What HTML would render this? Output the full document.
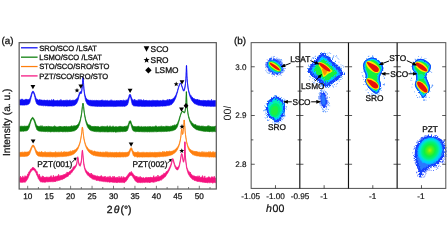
<!DOCTYPE html>
<html lang="en"><head><meta charset="utf-8"><title>XRD and RSM figure</title>
<style>html,body{margin:0;padding:0;background:#fff;overflow:hidden}svg{display:block}</style></head>
<body>
<svg width="448" height="252" viewBox="0 0 448 252" text-rendering="geometricPrecision" font-family='"Liberation Sans", Arial, Helvetica, sans-serif'>
<rect width="448" height="252" fill="#fff"/>
<defs>
<filter id="rough" x="-20%" y="-20%" width="140%" height="140%"><feTurbulence type="fractalNoise" baseFrequency="0.9" numOctaves="2" seed="3" result="n"/><feDisplacementMap in="SourceGraphic" in2="n" scale="4.5" xChannelSelector="R" yChannelSelector="G"/></filter>
<filter id="rough2" x="-20%" y="-20%" width="140%" height="140%"><feTurbulence type="fractalNoise" baseFrequency="0.7" numOctaves="2" seed="8" result="n"/><feDisplacementMap in="SourceGraphic" in2="n" scale="2.2" xChannelSelector="R" yChannelSelector="G"/></filter>
<marker id="ah" viewBox="0 0 10 10" refX="8" refY="5" markerWidth="4.8" markerHeight="4.6" orient="auto-start-reverse" markerUnits="userSpaceOnUse"><path d="M0 0.8 L10 5 L0 9.2 z" fill="#000"/></marker>
<radialGradient id="pztg"><stop offset="0" stop-color="#b4f000"/><stop offset="0.22" stop-color="#60f010"/><stop offset="0.5" stop-color="#10f040"/><stop offset="0.72" stop-color="#00f080"/><stop offset="0.86" stop-color="#00e8c0"/><stop offset="1" stop-color="#00ccff"/></radialGradient>
</defs>
<g id="xrd">
<polygon points="19.8,99.7 20.1,100.0 20.5,100.0 20.9,99.7 21.3,98.9 21.6,100.2 22.0,99.7 22.4,98.9 22.8,100.2 23.1,100.0 23.5,99.9 23.9,100.0 24.3,100.1 24.7,99.8 25.0,99.7 25.4,99.3 25.8,99.2 26.2,99.9 26.5,99.2 26.9,99.1 27.3,100.1 27.7,99.6 28.1,99.7 28.4,99.6 28.8,99.4 29.2,99.2 29.6,98.7 29.9,98.4 30.3,97.5 30.7,96.2 31.1,95.1 31.5,93.4 31.8,92.6 32.2,91.7 32.6,91.3 33.0,91.0 33.3,91.2 33.7,91.7 34.1,92.6 34.5,93.6 34.9,94.7 35.2,96.0 35.6,97.2 36.0,98.1 36.4,99.0 36.7,99.3 37.1,99.4 37.5,99.4 37.9,99.6 38.3,100.2 38.6,99.9 39.0,100.1 39.4,99.8 39.8,99.8 40.1,99.5 40.5,100.2 40.9,100.1 41.3,100.1 41.6,100.0 42.0,100.0 42.4,100.0 42.8,100.5 43.2,100.3 43.5,100.1 43.9,100.5 44.3,100.1 44.7,100.1 45.0,100.4 45.4,100.6 45.8,100.1 46.2,100.6 46.6,100.2 46.9,100.1 47.3,100.1 47.7,100.3 48.1,100.6 48.4,100.4 48.8,100.7 49.2,100.3 49.6,100.3 50.0,100.3 50.3,100.8 50.7,100.8 51.1,100.4 51.5,99.6 51.8,100.4 52.2,100.7 52.6,100.2 53.0,100.2 53.4,99.5 53.7,99.4 54.1,100.7 54.5,100.7 54.9,100.6 55.2,100.6 55.6,100.7 56.0,100.7 56.4,100.8 56.8,100.3 57.1,100.6 57.5,100.3 57.9,100.5 58.3,100.7 58.6,100.8 59.0,100.7 59.4,100.2 59.8,100.5 60.1,100.3 60.5,100.9 60.9,99.4 61.3,100.4 61.7,100.5 62.0,100.3 62.4,100.8 62.8,100.7 63.2,100.3 63.5,100.6 63.9,100.3 64.3,100.6 64.7,100.4 65.1,100.3 65.4,100.3 65.8,100.6 66.2,100.7 66.6,100.4 66.9,99.8 67.3,100.5 67.7,100.3 68.1,100.4 68.5,100.5 68.8,100.8 69.2,100.3 69.6,100.2 70.0,99.7 70.3,100.8 70.7,100.8 71.1,100.6 71.5,100.2 71.9,100.6 72.2,100.5 72.6,100.1 73.0,100.3 73.4,100.0 73.7,100.4 74.1,100.3 74.5,100.3 74.9,100.1 75.3,99.7 75.6,99.8 76.0,99.3 76.4,99.0 76.8,98.8 77.1,98.4 77.5,97.8 77.9,97.3 78.3,96.4 78.6,95.3 79.0,94.3 79.4,93.1 79.8,92.3 80.2,91.7 80.5,91.6 80.9,92.0 81.3,91.9 81.7,90.8 82.0,88.1 82.4,84.4 82.4,84.1 82.5,82.3 82.7,80.1 82.8,78.8 82.8,78.7 82.9,77.7 83.0,77.5 83.0,77.4 83.0,77.5 83.1,77.8 83.2,78.5 83.2,78.8 83.3,80.1 83.5,82.3 83.6,83.9 83.6,84.5 83.9,88.2 84.3,91.5 84.7,93.7 85.1,95.4 85.4,96.1 85.8,97.6 86.2,98.1 86.6,98.7 87.0,98.9 87.3,99.4 87.7,99.8 88.1,99.9 88.5,100.1 88.8,100.1 89.2,100.4 89.6,100.0 90.0,100.5 90.4,100.3 90.7,100.1 91.1,100.5 91.5,100.4 91.9,100.4 92.2,100.7 92.6,100.3 93.0,100.6 93.4,100.5 93.8,100.6 94.1,100.6 94.5,100.4 94.9,100.6 95.3,100.9 95.6,100.4 96.0,100.3 96.4,100.3 96.8,100.6 97.1,101.0 97.5,100.3 97.9,101.0 98.3,100.7 98.7,100.4 99.0,100.6 99.4,100.5 99.8,100.8 100.2,100.7 100.5,100.5 100.9,100.5 101.3,100.0 101.7,100.9 102.1,99.7 102.4,100.6 102.8,100.8 103.2,101.0 103.6,100.4 103.9,100.4 104.3,100.6 104.7,100.7 105.1,100.4 105.5,100.4 105.8,100.5 106.2,100.6 106.6,100.8 107.0,100.8 107.3,100.4 107.7,100.4 108.1,100.7 108.5,100.9 108.9,101.0 109.2,100.6 109.6,100.9 110.0,101.0 110.4,100.6 110.7,100.8 111.1,99.7 111.5,100.4 111.9,100.7 112.3,100.4 112.6,100.8 113.0,100.9 113.4,101.0 113.8,100.6 114.1,100.4 114.5,100.9 114.9,100.9 115.3,101.0 115.6,100.7 116.0,100.8 116.4,100.6 116.8,100.5 117.2,100.5 117.5,100.8 117.9,100.5 118.3,100.8 118.7,100.7 119.0,100.6 119.4,101.0 119.8,100.4 120.2,100.6 120.6,100.4 120.9,100.0 121.3,100.6 121.7,100.5 122.1,100.4 122.4,100.7 122.8,100.5 123.2,100.3 123.6,100.2 124.0,100.5 124.3,100.6 124.7,100.5 125.1,100.7 125.5,100.7 125.8,100.7 126.2,99.7 126.6,100.3 127.0,100.2 127.4,99.9 127.7,99.5 128.1,98.5 128.5,97.8 128.9,96.4 129.2,95.2 129.6,94.5 130.0,94.3 130.4,94.5 130.8,95.3 131.1,96.5 131.5,97.5 131.9,98.5 132.3,99.5 132.6,99.9 133.0,99.5 133.4,100.2 133.8,100.5 134.1,100.1 134.5,99.2 134.9,100.5 135.3,100.3 135.7,100.2 136.0,100.3 136.4,100.5 136.8,100.5 137.2,100.6 137.5,100.8 137.9,100.5 138.3,99.5 138.7,100.7 139.1,100.3 139.4,100.5 139.8,99.6 140.2,99.6 140.6,100.3 140.9,100.7 141.3,99.8 141.7,99.9 142.1,101.0 142.5,100.6 142.8,100.8 143.2,100.6 143.6,99.6 144.0,100.9 144.3,100.8 144.7,101.0 145.1,100.0 145.5,100.9 145.9,100.4 146.2,100.3 146.6,100.5 147.0,100.6 147.4,100.8 147.7,100.6 148.1,100.7 148.5,100.8 148.9,100.4 149.3,100.8 149.6,100.4 150.0,100.5 150.4,100.8 150.8,100.8 151.1,100.6 151.5,100.5 151.9,100.9 152.3,100.5 152.6,100.3 153.0,100.5 153.4,100.3 153.8,100.9 154.2,100.4 154.5,101.0 154.9,100.5 155.3,100.5 155.7,100.7 156.0,100.5 156.4,100.6 156.8,100.4 157.2,100.6 157.6,100.3 157.9,100.4 158.3,100.9 158.7,100.5 159.1,100.5 159.4,100.7 159.8,100.9 160.2,100.5 160.6,100.5 161.0,100.7 161.3,100.8 161.7,100.7 162.1,100.4 162.5,100.3 162.8,100.7 163.2,99.8 163.6,100.8 164.0,100.7 164.4,100.5 164.7,100.2 165.1,100.7 165.5,100.6 165.9,100.5 166.2,100.5 166.6,100.3 167.0,100.3 167.4,99.5 167.8,100.3 168.1,100.4 168.5,100.5 168.9,99.5 169.3,100.0 169.6,99.1 170.0,100.2 170.4,99.8 170.8,99.9 171.1,99.4 171.5,99.5 171.9,99.4 172.3,99.3 172.7,99.1 173.0,98.5 173.4,98.4 173.8,98.1 174.2,97.5 174.5,97.3 174.9,96.6 175.3,96.1 175.7,95.2 176.1,94.5 176.4,93.5 176.8,92.6 177.2,91.5 177.6,90.3 177.9,89.1 178.3,87.8 178.7,86.5 179.1,85.4 179.5,84.3 179.8,83.5 180.2,83.0 180.6,83.0 181.0,83.5 181.3,84.2 181.7,85.3 182.1,86.4 182.5,87.6 182.9,88.5 183.2,89.4 183.6,89.9 184.0,89.8 184.4,89.2 184.7,88.0 185.1,85.9 185.5,83.1 185.9,78.8 185.9,78.3 186.1,75.8 186.2,72.5 186.3,71.1 186.3,69.7 186.4,66.9 186.4,65.9 186.5,65.5 186.6,65.9 186.6,66.9 186.6,67.7 186.7,69.7 186.8,72.4 186.9,75.8 187.0,76.8 187.1,78.4 187.4,82.0 187.8,85.3 188.1,87.8 188.5,89.7 188.9,91.2 189.3,92.5 189.6,93.4 190.0,94.4 190.4,95.0 190.8,95.7 191.2,95.7 191.5,96.7 191.9,97.2 192.3,97.1 192.7,97.9 193.0,98.1 193.4,98.6 193.8,98.4 194.2,98.6 194.6,98.8 194.9,99.4 195.3,99.4 195.7,99.6 196.1,99.1 196.4,99.5 196.8,100.0 197.2,99.7 197.6,99.1 198.0,100.1 198.3,100.2 198.7,99.9 199.1,100.1 199.5,99.9 199.8,100.1 200.2,100.5 200.6,100.5 201.0,100.3 201.4,100.5 201.7,100.6 202.1,100.3 202.5,100.7 202.9,100.4 203.2,100.2 203.6,100.5 204.0,100.5 204.4,100.6 204.8,100.6 205.1,100.2 205.5,100.6 205.9,100.8 206.3,100.6 206.6,100.9 207.0,100.6 207.4,100.8 207.8,100.3 208.1,99.9 208.5,100.5 208.9,100.8 209.3,100.5 209.7,100.7 210.0,100.8 210.4,100.8 210.8,100.7 211.2,100.9 211.5,99.4 211.9,100.4 212.3,100.7 212.7,100.9 213.1,100.8 213.4,100.5 213.8,100.4 214.2,100.6 214.6,100.6 214.9,100.6 215.3,100.7 215.7,100.5 215.7,106.3 215.3,106.3 214.9,106.4 214.6,106.3 214.2,106.3 213.8,106.4 213.4,106.3 213.1,106.5 212.7,106.3 212.3,106.3 211.9,106.3 211.5,106.4 211.2,106.3 210.8,106.3 210.4,106.6 210.0,106.1 209.7,106.3 209.3,106.1 208.9,106.1 208.5,106.2 208.1,106.2 207.8,106.1 207.4,106.2 207.0,106.1 206.6,106.1 206.3,106.5 205.9,106.1 205.5,106.1 205.1,106.1 204.8,105.9 204.4,106.0 204.0,106.4 203.6,106.0 203.2,106.0 202.9,105.9 202.5,105.7 202.1,106.1 201.7,105.8 201.4,105.6 201.0,105.6 200.6,105.5 200.2,105.6 199.8,105.3 199.5,105.4 199.1,105.3 198.7,105.1 198.3,105.5 198.0,105.1 197.6,104.8 197.2,104.7 196.8,104.6 196.4,104.4 196.1,104.3 195.7,104.2 195.3,103.8 194.9,103.7 194.6,103.8 194.2,103.1 193.8,102.9 193.4,102.5 193.0,102.0 192.7,101.6 192.3,101.2 191.9,100.6 191.5,100.0 191.2,99.3 190.8,98.5 190.4,97.6 190.0,96.6 189.6,95.5 189.3,94.2 188.9,92.7 188.5,90.9 188.1,88.8 187.8,86.1 187.4,82.5 187.1,78.7 187.0,77.1 186.9,76.0 186.8,72.6 186.7,69.9 186.6,67.8 186.6,67.0 186.6,65.9 186.5,65.5 186.4,65.9 186.4,67.0 186.3,69.9 186.3,71.3 186.2,72.6 186.1,76.0 185.9,78.7 185.9,79.1 185.5,83.7 185.1,86.8 184.7,89.0 184.4,90.4 184.0,91.1 183.6,91.1 183.2,90.6 182.9,89.7 182.5,88.5 182.1,87.2 181.7,86.0 181.3,84.9 181.0,84.1 180.6,83.6 180.2,83.6 179.8,84.1 179.5,84.9 179.1,86.1 178.7,87.4 178.3,88.8 177.9,90.3 177.6,91.7 177.2,93.1 176.8,94.4 176.4,95.7 176.1,96.8 175.7,97.9 175.3,98.8 174.9,99.7 174.5,100.5 174.2,101.1 173.8,101.8 173.4,102.3 173.0,102.9 172.7,103.3 172.3,103.5 171.9,103.9 171.5,104.6 171.1,104.5 170.8,104.6 170.4,105.1 170.0,105.0 169.6,105.2 169.3,105.3 168.9,105.3 168.5,105.6 168.1,105.5 167.8,105.5 167.4,105.6 167.0,105.7 166.6,105.8 166.2,105.8 165.9,105.9 165.5,105.9 165.1,106.0 164.7,106.0 164.4,106.0 164.0,106.0 163.6,106.0 163.2,106.1 162.8,106.2 162.5,106.2 162.1,106.1 161.7,106.1 161.3,106.1 161.0,106.3 160.6,106.2 160.2,106.1 159.8,106.2 159.4,106.2 159.1,106.2 158.7,106.2 158.3,106.3 157.9,106.2 157.6,106.2 157.2,106.2 156.8,106.3 156.4,106.4 156.0,106.3 155.7,106.4 155.3,106.4 154.9,106.2 154.5,106.3 154.2,106.2 153.8,106.2 153.4,106.3 153.0,106.2 152.6,106.3 152.3,106.6 151.9,106.4 151.5,106.4 151.1,106.4 150.8,106.3 150.4,106.2 150.0,106.4 149.6,106.4 149.3,106.3 148.9,106.3 148.5,106.4 148.1,106.3 147.7,106.4 147.4,106.3 147.0,106.3 146.6,106.3 146.2,106.2 145.9,106.6 145.5,106.2 145.1,106.4 144.7,106.4 144.3,106.4 144.0,106.4 143.6,106.4 143.2,106.2 142.8,106.3 142.5,106.4 142.1,106.4 141.7,106.4 141.3,106.3 140.9,106.2 140.6,106.3 140.2,106.1 139.8,106.3 139.4,106.3 139.1,106.2 138.7,106.3 138.3,106.3 137.9,106.1 137.5,106.2 137.2,106.2 136.8,106.1 136.4,106.1 136.0,106.1 135.7,106.1 135.3,106.0 134.9,105.9 134.5,106.0 134.1,105.8 133.8,105.8 133.4,105.7 133.0,105.4 132.6,105.0 132.3,104.5 131.9,103.0 131.5,101.2 131.1,99.4 130.8,97.9 130.4,96.9 130.0,96.5 129.6,96.8 129.2,97.9 128.9,99.5 128.5,101.2 128.1,103.0 127.7,104.1 127.4,105.0 127.0,105.3 126.6,105.5 126.2,105.8 125.8,105.8 125.5,106.0 125.1,105.9 124.7,106.4 124.3,106.0 124.0,106.5 123.6,106.0 123.2,106.1 122.8,106.4 122.4,106.2 122.1,106.2 121.7,106.3 121.3,106.2 120.9,106.1 120.6,106.4 120.2,106.2 119.8,106.3 119.4,106.2 119.0,106.2 118.7,106.2 118.3,106.2 117.9,106.2 117.5,106.3 117.2,106.3 116.8,106.2 116.4,106.4 116.0,106.4 115.6,106.4 115.3,106.4 114.9,106.4 114.5,106.5 114.1,106.3 113.8,106.4 113.4,106.6 113.0,106.3 112.6,106.3 112.3,106.4 111.9,106.4 111.5,106.3 111.1,106.4 110.7,106.4 110.4,106.3 110.0,106.3 109.6,106.3 109.2,106.4 108.9,106.3 108.5,106.4 108.1,106.3 107.7,106.2 107.3,106.5 107.0,106.4 106.6,106.3 106.2,106.5 105.8,106.4 105.5,106.3 105.1,106.4 104.7,106.4 104.3,106.4 103.9,106.4 103.6,106.4 103.2,106.3 102.8,106.3 102.4,106.3 102.1,106.4 101.7,106.5 101.3,106.4 100.9,106.2 100.5,106.4 100.2,106.4 99.8,106.3 99.4,106.4 99.0,106.4 98.7,106.2 98.3,106.3 97.9,106.2 97.5,106.7 97.1,106.2 96.8,106.2 96.4,106.3 96.0,106.2 95.6,106.3 95.3,106.3 94.9,106.1 94.5,106.3 94.1,106.1 93.8,106.1 93.4,106.1 93.0,106.2 92.6,106.0 92.2,106.1 91.9,106.1 91.5,105.9 91.1,105.9 90.7,105.8 90.4,105.8 90.0,105.7 89.6,105.5 89.2,105.4 88.8,105.2 88.5,105.0 88.1,104.7 87.7,104.5 87.3,103.9 87.0,103.8 86.6,102.8 86.2,101.9 85.8,101.0 85.4,99.6 85.1,97.9 84.7,95.8 84.3,93.0 83.9,89.4 83.6,85.2 83.6,84.5 83.5,82.9 83.3,80.5 83.2,79.1 83.2,78.8 83.1,78.0 83.0,77.7 83.0,77.6 83.0,77.7 82.9,78.0 82.8,79.1 82.8,79.1 82.7,80.5 82.5,82.8 82.4,84.8 82.4,85.1 82.0,89.4 81.7,92.2 81.3,93.6 80.9,93.7 80.5,93.4 80.2,93.4 79.8,94.0 79.4,95.1 79.0,96.5 78.6,97.9 78.3,99.3 77.9,100.6 77.5,101.6 77.1,102.4 76.8,103.1 76.4,103.7 76.0,104.1 75.6,104.5 75.3,104.8 74.9,104.9 74.5,105.3 74.1,105.4 73.7,105.4 73.4,105.6 73.0,105.6 72.6,105.8 72.2,105.8 71.9,105.9 71.5,105.9 71.1,106.0 70.7,106.0 70.3,105.9 70.0,106.1 69.6,106.0 69.2,106.1 68.8,106.1 68.5,106.1 68.1,106.1 67.7,106.2 67.3,106.1 66.9,106.2 66.6,106.5 66.2,106.2 65.8,106.1 65.4,106.1 65.1,106.2 64.7,106.1 64.3,106.2 63.9,106.5 63.5,106.1 63.2,106.2 62.8,106.0 62.4,106.1 62.0,106.2 61.7,106.2 61.3,106.1 60.9,106.2 60.5,106.0 60.1,106.1 59.8,106.2 59.4,106.1 59.0,106.2 58.6,106.1 58.3,106.0 57.9,106.1 57.5,106.1 57.1,106.2 56.8,106.1 56.4,106.0 56.0,106.1 55.6,106.0 55.2,106.0 54.9,106.2 54.5,106.0 54.1,105.9 53.7,106.1 53.4,106.4 53.0,106.0 52.6,106.3 52.2,106.0 51.8,106.0 51.5,105.9 51.1,106.2 50.7,105.9 50.3,106.0 50.0,105.9 49.6,106.0 49.2,105.9 48.8,106.0 48.4,105.9 48.1,105.9 47.7,105.8 47.3,106.0 46.9,105.9 46.6,105.7 46.2,105.7 45.8,106.0 45.4,105.7 45.0,105.7 44.7,105.6 44.3,105.6 43.9,105.6 43.5,105.9 43.2,105.6 42.8,105.5 42.4,105.6 42.0,105.6 41.6,105.6 41.3,105.4 40.9,105.3 40.5,105.3 40.1,105.2 39.8,105.2 39.4,105.2 39.0,105.1 38.6,105.0 38.3,104.9 37.9,104.6 37.5,104.4 37.1,104.1 36.7,103.8 36.4,102.9 36.0,101.9 35.6,100.6 35.2,99.0 34.9,97.2 34.5,95.7 34.1,94.4 33.7,93.4 33.3,92.8 33.0,92.5 32.6,92.8 32.2,93.5 31.8,94.6 31.5,96.0 31.1,97.6 30.7,99.2 30.3,100.7 29.9,102.3 29.6,103.0 29.2,103.6 28.8,104.0 28.4,104.3 28.1,104.5 27.7,104.5 27.3,104.8 26.9,104.9 26.5,104.8 26.2,104.9 25.8,104.8 25.4,104.9 25.0,105.3 24.7,105.0 24.3,105.0 23.9,105.0 23.5,104.9 23.1,105.3 22.8,105.0 22.4,105.1 22.0,105.1 21.6,105.0 21.3,105.1 20.9,105.0 20.5,105.1 20.1,105.0 19.8,105.0" fill="#0c0cf6" stroke="#0c0cf6" stroke-width="0.7" stroke-linejoin="round"/>
<polygon points="19.8,126.3 20.1,126.7 20.5,126.3 20.9,126.3 21.3,126.4 21.6,126.3 22.0,125.8 22.4,126.2 22.8,126.6 23.1,126.6 23.5,126.1 23.9,126.4 24.3,126.1 24.7,126.2 25.0,126.3 25.4,126.3 25.8,126.3 26.2,126.5 26.5,126.0 26.9,125.9 27.3,126.1 27.7,126.1 28.1,125.8 28.4,125.4 28.8,124.5 29.2,123.7 29.6,122.8 29.9,122.3 30.3,121.2 30.7,119.8 31.1,119.3 31.5,118.5 31.8,118.0 32.2,117.5 32.6,117.4 33.0,117.6 33.3,117.8 33.7,118.5 34.1,119.1 34.5,120.1 34.9,120.7 35.2,121.7 35.6,123.0 36.0,124.1 36.4,124.9 36.7,125.3 37.1,125.7 37.5,126.0 37.9,126.1 38.3,126.2 38.6,126.5 39.0,126.2 39.4,126.2 39.8,126.6 40.1,126.7 40.5,125.7 40.9,126.6 41.3,126.6 41.6,126.8 42.0,125.5 42.4,126.8 42.8,126.6 43.2,126.5 43.5,126.7 43.9,126.7 44.3,126.6 44.7,126.5 45.0,126.9 45.4,126.8 45.8,126.4 46.2,126.6 46.6,126.0 46.9,126.9 47.3,126.9 47.7,126.5 48.1,126.9 48.4,126.0 48.8,126.4 49.2,126.5 49.6,126.5 50.0,126.4 50.3,126.8 50.7,126.6 51.1,126.8 51.5,126.5 51.8,126.9 52.2,126.8 52.6,126.9 53.0,126.8 53.4,126.7 53.7,126.5 54.1,127.0 54.5,125.7 54.9,126.7 55.2,126.5 55.6,126.5 56.0,126.8 56.4,127.0 56.8,126.7 57.1,126.9 57.5,126.9 57.9,126.8 58.3,126.9 58.6,126.6 59.0,126.5 59.4,126.5 59.8,126.4 60.1,126.5 60.5,126.1 60.9,127.0 61.3,126.5 61.7,126.9 62.0,126.9 62.4,126.8 62.8,126.7 63.2,126.7 63.5,126.8 63.9,126.6 64.3,126.1 64.7,126.5 65.1,126.4 65.4,127.0 65.8,126.5 66.2,126.5 66.6,126.4 66.9,126.4 67.3,126.5 67.7,126.9 68.1,126.8 68.5,126.6 68.8,126.4 69.2,126.8 69.6,126.6 70.0,126.8 70.3,126.6 70.7,126.3 71.1,126.3 71.5,125.9 71.9,125.6 72.2,126.3 72.6,126.4 73.0,126.3 73.4,126.2 73.7,125.7 74.1,126.2 74.5,125.7 74.9,125.8 75.3,125.8 75.6,126.0 76.0,125.6 76.4,125.6 76.8,125.3 77.1,125.0 77.5,124.9 77.9,124.3 78.3,123.9 78.6,123.4 79.0,122.5 79.4,121.8 79.8,120.9 80.2,119.7 80.5,118.5 80.9,116.8 81.3,114.8 81.7,112.4 82.0,109.6 82.4,106.6 82.4,106.3 82.5,105.3 82.7,104.2 82.8,103.7 82.8,103.6 82.9,103.3 83.0,103.2 83.0,103.2 83.0,103.2 83.1,103.3 83.2,103.6 83.2,103.7 83.3,104.2 83.5,105.3 83.6,106.2 83.6,106.6 83.9,109.4 84.3,112.4 84.7,114.7 85.1,116.7 85.4,118.3 85.8,119.6 86.2,120.8 86.6,121.9 87.0,122.6 87.3,123.4 87.7,124.0 88.1,124.2 88.5,124.8 88.8,125.1 89.2,125.5 89.6,124.7 90.0,125.8 90.4,125.7 90.7,125.8 91.1,125.9 91.5,126.4 91.9,126.2 92.2,126.3 92.6,126.6 93.0,126.6 93.4,126.7 93.8,126.2 94.1,126.0 94.5,126.7 94.9,126.8 95.3,126.8 95.6,126.1 96.0,126.9 96.4,126.7 96.8,126.4 97.1,126.8 97.5,126.4 97.9,126.6 98.3,126.6 98.7,126.6 99.0,126.9 99.4,127.0 99.8,127.0 100.2,126.8 100.5,126.9 100.9,126.5 101.3,126.7 101.7,126.9 102.1,125.9 102.4,126.8 102.8,126.9 103.2,126.6 103.6,126.2 103.9,126.9 104.3,126.5 104.7,126.7 105.1,127.0 105.5,126.6 105.8,126.5 106.2,126.6 106.6,126.8 107.0,126.5 107.3,125.7 107.7,126.6 108.1,127.0 108.5,127.1 108.9,126.6 109.2,126.8 109.6,126.9 110.0,125.7 110.4,127.0 110.7,126.9 111.1,126.9 111.5,126.8 111.9,127.0 112.3,127.0 112.6,126.7 113.0,125.8 113.4,127.1 113.8,126.8 114.1,126.7 114.5,127.0 114.9,126.9 115.3,126.9 115.6,127.0 116.0,126.2 116.4,126.9 116.8,127.1 117.2,126.9 117.5,127.0 117.9,127.0 118.3,126.5 118.7,127.0 119.0,126.9 119.4,126.5 119.8,126.1 120.2,126.1 120.6,126.7 120.9,126.6 121.3,126.7 121.7,126.5 122.1,126.6 122.4,126.8 122.8,126.8 123.2,126.7 123.6,126.9 124.0,126.9 124.3,126.1 124.7,126.6 125.1,126.4 125.5,126.3 125.8,126.5 126.2,126.4 126.6,126.1 127.0,126.0 127.4,126.2 127.7,125.6 128.1,125.0 128.5,123.8 128.9,122.8 129.2,121.5 129.6,121.1 130.0,120.6 130.4,120.9 130.8,121.1 131.1,122.2 131.5,123.5 131.9,124.5 132.3,124.9 132.6,125.7 133.0,126.1 133.4,126.2 133.8,126.7 134.1,126.3 134.5,126.7 134.9,126.4 135.3,126.8 135.7,126.4 136.0,126.8 136.4,126.8 136.8,126.7 137.2,126.5 137.5,126.6 137.9,126.5 138.3,126.6 138.7,125.9 139.1,126.7 139.4,126.7 139.8,126.9 140.2,126.6 140.6,126.9 140.9,126.9 141.3,126.6 141.7,126.5 142.1,126.9 142.5,126.9 142.8,126.7 143.2,127.0 143.6,126.6 144.0,126.9 144.3,126.8 144.7,126.7 145.1,126.9 145.5,126.5 145.9,126.6 146.2,126.7 146.6,127.0 147.0,126.9 147.4,126.5 147.7,126.8 148.1,126.5 148.5,126.7 148.9,127.0 149.3,126.6 149.6,126.5 150.0,127.0 150.4,126.6 150.8,126.8 151.1,126.6 151.5,127.0 151.9,126.9 152.3,126.9 152.6,126.5 153.0,126.7 153.4,126.9 153.8,126.6 154.2,126.5 154.5,126.9 154.9,126.6 155.3,126.8 155.7,125.7 156.0,126.5 156.4,125.9 156.8,126.8 157.2,126.9 157.6,127.0 157.9,126.7 158.3,126.8 158.7,126.6 159.1,126.9 159.4,126.6 159.8,126.4 160.2,126.5 160.6,126.4 161.0,126.7 161.3,126.4 161.7,125.8 162.1,126.5 162.5,126.8 162.8,126.5 163.2,126.5 163.6,126.5 164.0,126.4 164.4,126.7 164.7,126.6 165.1,126.7 165.5,126.3 165.9,126.7 166.2,125.8 166.6,126.8 167.0,126.0 167.4,126.2 167.8,126.5 168.1,126.3 168.5,126.5 168.9,126.2 169.3,126.4 169.6,126.5 170.0,126.4 170.4,126.2 170.8,126.4 171.1,126.5 171.5,126.1 171.9,125.9 172.3,126.1 172.7,126.0 173.0,125.2 173.4,126.2 173.8,125.7 174.2,125.6 174.5,124.7 174.9,125.5 175.3,125.3 175.7,125.2 176.1,125.1 176.4,124.6 176.8,124.1 177.2,123.9 177.6,123.0 177.9,122.3 178.3,121.3 178.7,120.4 179.1,119.1 179.5,117.7 179.8,116.7 180.2,115.5 180.6,114.3 181.0,113.3 181.3,112.4 181.7,111.7 182.1,111.3 182.5,111.1 182.9,111.0 183.2,111.4 183.6,111.8 184.0,112.2 184.4,112.4 184.7,112.0 185.1,110.7 185.5,108.1 185.8,104.6 185.9,103.5 186.0,102.2 186.1,99.0 186.2,96.4 186.3,94.8 186.3,93.3 186.3,92.2 186.4,91.7 186.5,92.1 186.5,93.4 186.6,96.4 186.6,97.2 186.7,99.1 186.8,102.3 187.0,104.7 187.0,104.7 187.4,109.0 187.8,111.7 188.1,114.0 188.5,115.7 188.9,116.8 189.3,118.3 189.6,119.2 190.0,120.0 190.4,120.7 190.8,121.4 191.2,121.4 191.5,122.3 191.9,122.8 192.3,123.2 192.7,122.9 193.0,123.7 193.4,123.9 193.8,124.4 194.2,124.4 194.6,124.8 194.9,124.7 195.3,124.9 195.7,124.3 196.1,125.2 196.4,125.6 196.8,125.7 197.2,125.6 197.6,125.9 198.0,125.8 198.3,126.1 198.7,125.7 199.1,125.8 199.5,125.9 199.8,126.2 200.2,126.3 200.6,126.3 201.0,126.4 201.4,125.9 201.7,126.1 202.1,126.1 202.5,126.2 202.9,126.3 203.2,126.3 203.6,126.2 204.0,126.4 204.4,126.5 204.8,126.6 205.1,126.3 205.5,126.8 205.9,126.4 206.3,126.5 206.6,126.8 207.0,126.3 207.4,126.5 207.8,125.7 208.1,126.3 208.5,126.3 208.9,125.6 209.3,126.6 209.7,126.4 210.0,126.5 210.4,126.1 210.8,126.6 211.2,126.5 211.5,126.9 211.9,126.8 212.3,126.6 212.7,126.9 213.1,126.4 213.4,126.6 213.8,127.0 214.2,126.7 214.6,126.5 214.9,126.5 215.3,127.0 215.7,125.8 215.7,131.8 215.3,131.7 214.9,131.6 214.6,131.6 214.2,131.6 213.8,131.6 213.4,131.6 213.1,131.6 212.7,131.8 212.3,131.6 211.9,131.5 211.5,131.6 211.2,131.7 210.8,131.6 210.4,131.5 210.0,131.5 209.7,131.9 209.3,131.9 208.9,131.4 208.5,131.5 208.1,131.5 207.8,131.5 207.4,131.4 207.0,131.4 206.6,131.3 206.3,131.3 205.9,131.4 205.5,131.4 205.1,131.2 204.8,131.5 204.4,131.2 204.0,131.2 203.6,131.1 203.2,131.4 202.9,131.1 202.5,131.0 202.1,131.0 201.7,130.9 201.4,130.8 201.0,130.8 200.6,130.7 200.2,130.6 199.8,130.6 199.5,130.5 199.1,130.3 198.7,130.2 198.3,130.2 198.0,130.0 197.6,129.9 197.2,129.7 196.8,129.7 196.4,129.7 196.1,129.3 195.7,129.0 195.3,128.9 194.9,128.6 194.6,128.3 194.2,128.0 193.8,127.7 193.4,127.5 193.0,127.1 192.7,126.6 192.3,126.2 191.9,125.6 191.5,125.0 191.2,124.4 190.8,123.6 190.4,122.8 190.0,121.9 189.6,120.9 189.3,119.7 188.9,118.4 188.5,116.8 188.1,114.9 187.8,112.6 187.4,109.5 187.0,105.1 187.0,105.0 186.8,102.5 186.7,99.2 186.6,97.3 186.6,96.5 186.5,93.4 186.5,92.2 186.4,91.7 186.3,92.2 186.3,93.4 186.3,94.9 186.2,96.5 186.1,99.2 186.0,102.5 185.9,103.8 185.8,104.9 185.5,108.5 185.1,111.3 184.7,112.7 184.4,113.1 184.0,112.9 183.6,112.5 183.2,112.1 182.9,111.8 182.5,111.8 182.1,112.0 181.7,112.4 181.3,113.2 181.0,114.1 180.6,115.3 180.2,116.6 179.8,118.0 179.5,119.4 179.1,120.9 178.7,122.3 178.3,123.8 177.9,124.9 177.6,126.1 177.2,126.9 176.8,127.7 176.4,128.2 176.1,128.8 175.7,129.2 175.3,129.4 174.9,129.8 174.5,129.9 174.2,130.1 173.8,130.2 173.4,130.3 173.0,130.4 172.7,130.6 172.3,130.7 171.9,130.8 171.5,130.8 171.1,130.9 170.8,131.0 170.4,130.9 170.0,130.9 169.6,131.3 169.3,131.2 168.9,131.2 168.5,131.1 168.1,131.2 167.8,131.3 167.4,131.3 167.0,131.6 166.6,131.4 166.2,131.4 165.9,131.4 165.5,131.3 165.1,131.4 164.7,131.4 164.4,131.5 164.0,131.4 163.6,131.6 163.2,131.4 162.8,131.5 162.5,131.5 162.1,131.5 161.7,131.6 161.3,131.7 161.0,131.6 160.6,131.5 160.2,131.7 159.8,131.6 159.4,131.6 159.1,131.6 158.7,131.6 158.3,131.6 157.9,132.0 157.6,131.7 157.2,131.7 156.8,131.8 156.4,131.7 156.0,131.6 155.7,131.7 155.3,131.6 154.9,131.6 154.5,131.8 154.2,131.6 153.8,131.7 153.4,131.8 153.0,131.8 152.6,131.8 152.3,131.7 151.9,131.7 151.5,131.8 151.1,131.8 150.8,131.7 150.4,131.8 150.0,131.8 149.6,131.8 149.3,132.0 148.9,131.7 148.5,131.7 148.1,131.8 147.7,131.8 147.4,131.9 147.0,131.7 146.6,131.7 146.2,131.8 145.9,131.7 145.5,131.8 145.1,131.7 144.7,131.8 144.3,131.8 144.0,131.7 143.6,131.8 143.2,131.7 142.8,131.8 142.5,131.7 142.1,131.8 141.7,131.7 141.3,131.7 140.9,131.6 140.6,131.7 140.2,131.6 139.8,131.7 139.4,131.7 139.1,132.0 138.7,131.6 138.3,131.7 137.9,131.7 137.5,131.5 137.2,131.6 136.8,131.7 136.4,131.5 136.0,131.6 135.7,131.8 135.3,131.5 134.9,131.3 134.5,131.3 134.1,131.3 133.8,131.0 133.4,130.9 133.0,130.6 132.6,130.0 132.3,129.1 131.9,127.8 131.5,126.3 131.1,124.8 130.8,123.7 130.4,123.0 130.0,122.9 129.6,123.4 129.2,124.3 128.9,125.6 128.5,127.2 128.1,128.6 127.7,129.7 127.4,130.4 127.0,130.9 126.6,131.0 126.2,131.2 125.8,131.4 125.5,131.4 125.1,131.4 124.7,131.5 124.3,131.5 124.0,131.5 123.6,131.6 123.2,131.6 122.8,131.5 122.4,131.7 122.1,131.7 121.7,131.6 121.3,131.6 120.9,131.8 120.6,132.0 120.2,131.6 119.8,131.8 119.4,131.7 119.0,131.8 118.7,131.8 118.3,131.8 117.9,131.7 117.5,131.9 117.2,131.8 116.8,131.7 116.4,132.2 116.0,132.2 115.6,132.1 115.3,132.2 114.9,131.8 114.5,131.7 114.1,131.8 113.8,131.9 113.4,131.9 113.0,132.1 112.6,131.8 112.3,131.8 111.9,131.8 111.5,131.9 111.1,131.7 110.7,131.7 110.4,131.8 110.0,131.9 109.6,131.8 109.2,131.8 108.9,131.9 108.5,131.9 108.1,131.7 107.7,131.9 107.3,131.9 107.0,131.8 106.6,131.8 106.2,131.8 105.8,131.8 105.5,131.8 105.1,131.9 104.7,131.8 104.3,131.9 103.9,131.8 103.6,131.8 103.2,131.7 102.8,131.7 102.4,131.8 102.1,131.8 101.7,131.8 101.3,131.7 100.9,132.1 100.5,131.8 100.2,131.8 99.8,132.1 99.4,131.7 99.0,131.6 98.7,131.8 98.3,131.6 97.9,131.7 97.5,131.6 97.1,131.6 96.8,131.6 96.4,131.7 96.0,131.6 95.6,131.6 95.3,131.5 94.9,131.4 94.5,131.4 94.1,131.6 93.8,131.3 93.4,131.2 93.0,131.1 92.6,131.0 92.2,130.9 91.9,130.8 91.5,130.8 91.1,130.5 90.7,130.5 90.4,130.1 90.0,129.9 89.6,129.7 89.2,129.3 88.8,128.9 88.5,128.3 88.1,127.8 87.7,127.2 87.3,126.3 87.0,125.4 86.6,124.5 86.2,123.1 85.8,121.6 85.4,120.0 85.1,118.0 84.7,115.8 84.3,113.1 83.9,110.0 83.6,106.9 83.6,106.5 83.5,105.6 83.3,104.5 83.2,103.9 83.2,103.8 83.1,103.6 83.0,103.5 83.0,103.4 83.0,103.5 82.9,103.6 82.8,103.9 82.8,103.9 82.7,104.5 82.5,105.6 82.4,106.7 82.4,106.9 82.0,110.1 81.7,113.2 81.3,115.9 80.9,118.1 80.5,120.1 80.2,121.7 79.8,123.2 79.4,124.4 79.0,125.7 78.6,126.4 78.3,127.1 77.9,127.9 77.5,128.3 77.1,128.8 76.8,129.3 76.4,129.6 76.0,129.9 75.6,130.1 75.3,130.3 74.9,130.5 74.5,130.8 74.1,130.8 73.7,130.9 73.4,131.0 73.0,131.2 72.6,131.1 72.2,131.3 71.9,131.3 71.5,131.4 71.1,131.5 70.7,131.5 70.3,131.4 70.0,131.9 69.6,131.5 69.2,131.6 68.8,131.6 68.5,131.6 68.1,131.7 67.7,131.6 67.3,132.0 66.9,131.7 66.6,131.7 66.2,131.6 65.8,131.8 65.4,131.7 65.1,131.7 64.7,131.7 64.3,131.6 63.9,131.7 63.5,131.7 63.2,131.7 62.8,131.8 62.4,131.7 62.0,131.7 61.7,131.6 61.3,132.0 60.9,131.6 60.5,131.6 60.1,131.6 59.8,131.7 59.4,131.7 59.0,131.7 58.6,131.8 58.3,131.7 57.9,131.8 57.5,131.6 57.1,131.8 56.8,131.7 56.4,131.7 56.0,131.7 55.6,131.6 55.2,131.8 54.9,131.8 54.5,131.7 54.1,131.8 53.7,131.8 53.4,131.7 53.0,131.8 52.6,131.6 52.2,131.7 51.8,131.7 51.5,131.7 51.1,131.7 50.7,132.0 50.3,131.7 50.0,131.7 49.6,131.6 49.2,131.7 48.8,131.7 48.4,131.6 48.1,131.6 47.7,131.8 47.3,131.6 46.9,131.5 46.6,131.5 46.2,131.5 45.8,131.5 45.4,131.9 45.0,131.5 44.7,131.6 44.3,131.4 43.9,131.5 43.5,131.5 43.2,131.5 42.8,131.3 42.4,131.4 42.0,131.3 41.6,131.6 41.3,131.3 40.9,131.3 40.5,131.3 40.1,131.1 39.8,131.2 39.4,131.1 39.0,130.9 38.6,130.9 38.3,130.7 37.9,130.5 37.5,130.3 37.1,129.8 36.7,129.4 36.4,128.3 36.0,127.3 35.6,126.1 35.2,124.7 34.9,123.4 34.5,122.1 34.1,121.0 33.7,120.0 33.3,119.3 33.0,119.0 32.6,118.8 32.2,119.0 31.8,119.5 31.5,120.1 31.1,121.0 30.7,122.2 30.3,123.6 29.9,124.8 29.6,126.2 29.2,127.4 28.8,128.4 28.4,129.1 28.1,129.7 27.7,130.2 27.3,130.5 26.9,130.7 26.5,130.7 26.2,130.9 25.8,130.8 25.4,131.0 25.0,131.2 24.7,131.0 24.3,131.0 23.9,131.1 23.5,131.2 23.1,131.4 22.8,131.1 22.4,131.2 22.0,131.3 21.6,131.3 21.3,131.2 20.9,131.2 20.5,131.2 20.1,131.3 19.8,131.3" fill="#0a7d0a" stroke="#0a7d0a" stroke-width="0.7" stroke-linejoin="round"/>
<polygon points="19.8,152.4 20.1,152.4 20.5,152.4 20.9,152.1 21.3,152.0 21.6,152.5 22.0,152.3 22.4,152.0 22.8,152.4 23.1,152.5 23.5,152.1 23.9,152.4 24.3,152.0 24.7,152.1 25.0,152.3 25.4,152.1 25.8,152.1 26.2,151.9 26.5,152.2 26.9,152.0 27.3,151.9 27.7,152.0 28.1,152.0 28.4,151.7 28.8,151.6 29.2,151.4 29.6,150.6 29.9,150.2 30.3,149.6 30.7,148.5 31.1,147.7 31.5,146.9 31.8,146.2 32.2,145.6 32.6,145.1 33.0,144.9 33.3,145.1 33.7,145.3 34.1,145.8 34.5,146.6 34.9,147.4 35.2,148.2 35.6,149.2 36.0,149.9 36.4,150.4 36.7,151.1 37.1,151.5 37.5,151.7 37.9,151.8 38.3,152.1 38.6,152.2 39.0,152.2 39.4,152.0 39.8,152.0 40.1,152.2 40.5,152.3 40.9,152.1 41.3,151.6 41.6,151.5 42.0,152.0 42.4,152.3 42.8,152.3 43.2,152.6 43.5,152.1 43.9,152.6 44.3,152.6 44.7,152.4 45.0,151.5 45.4,152.5 45.8,152.2 46.2,152.3 46.6,152.5 46.9,152.4 47.3,152.4 47.7,152.3 48.1,152.2 48.4,152.3 48.8,152.6 49.2,152.6 49.6,152.2 50.0,151.7 50.3,152.3 50.7,152.4 51.1,152.0 51.5,152.6 51.8,152.4 52.2,152.4 52.6,152.6 53.0,152.3 53.4,152.6 53.7,152.5 54.1,152.5 54.5,152.4 54.9,152.5 55.2,152.6 55.6,151.6 56.0,152.5 56.4,152.4 56.8,152.4 57.1,152.4 57.5,152.3 57.9,152.5 58.3,152.3 58.6,152.2 59.0,152.5 59.4,152.3 59.8,152.4 60.1,152.6 60.5,152.4 60.9,152.3 61.3,151.5 61.7,152.4 62.0,152.5 62.4,152.4 62.8,152.4 63.2,152.1 63.5,152.1 63.9,152.1 64.3,151.5 64.7,152.4 65.1,152.1 65.4,152.0 65.8,152.1 66.2,151.9 66.6,152.1 66.9,151.9 67.3,152.2 67.7,151.9 68.1,151.9 68.5,151.9 68.8,151.8 69.2,152.0 69.6,151.5 70.0,151.8 70.3,151.5 70.7,150.7 71.1,151.3 71.5,151.4 71.9,151.4 72.2,151.3 72.6,150.4 73.0,150.9 73.4,150.6 73.7,150.6 74.1,150.3 74.5,150.0 74.9,149.9 75.3,149.9 75.6,149.5 76.0,149.1 76.4,148.7 76.8,148.6 77.1,147.9 77.5,147.4 77.9,146.9 78.3,146.4 78.6,145.7 79.0,144.7 79.4,143.9 79.8,142.7 80.2,141.4 80.5,139.8 80.9,138.0 81.3,135.6 81.7,132.6 81.8,131.4 82.0,129.9 82.0,129.0 82.1,128.5 82.2,127.8 82.3,127.2 82.4,127.1 82.4,127.1 82.4,127.0 82.5,127.1 82.5,127.2 82.6,127.8 82.7,128.5 82.8,129.5 82.9,129.9 83.0,131.4 83.2,133.0 83.6,135.9 83.9,138.2 84.3,140.0 84.7,141.6 85.1,142.8 85.4,143.9 85.8,144.9 86.2,145.8 86.6,146.5 87.0,147.1 87.3,147.2 87.7,148.1 88.1,148.6 88.5,148.9 88.8,149.2 89.2,149.6 89.6,150.0 90.0,150.2 90.4,150.2 90.7,150.3 91.1,150.5 91.5,150.3 91.9,150.8 92.2,150.6 92.6,151.2 93.0,151.5 93.4,151.2 93.8,151.6 94.1,151.3 94.5,151.0 94.9,151.1 95.3,151.6 95.6,151.7 96.0,151.8 96.4,151.9 96.8,151.8 97.1,151.9 97.5,151.8 97.9,152.0 98.3,152.1 98.7,152.0 99.0,152.1 99.4,152.2 99.8,152.2 100.2,152.0 100.5,152.1 100.9,152.1 101.3,152.5 101.7,152.3 102.1,152.4 102.4,152.2 102.8,152.3 103.2,152.3 103.6,152.2 103.9,152.2 104.3,152.2 104.7,152.5 105.1,152.5 105.5,152.6 105.8,151.6 106.2,152.4 106.6,151.8 107.0,152.5 107.3,151.9 107.7,152.2 108.1,152.5 108.5,152.3 108.9,152.5 109.2,152.4 109.6,152.4 110.0,152.6 110.4,152.3 110.7,152.2 111.1,152.7 111.5,152.5 111.9,152.4 112.3,152.3 112.6,152.5 113.0,152.6 113.4,152.7 113.8,152.4 114.1,152.3 114.5,152.6 114.9,152.4 115.3,152.6 115.6,152.7 116.0,152.0 116.4,152.3 116.8,152.4 117.2,152.5 117.5,152.7 117.9,152.5 118.3,152.5 118.7,152.7 119.0,152.3 119.4,152.3 119.8,152.3 120.2,152.5 120.6,152.4 120.9,152.4 121.3,152.5 121.7,152.5 122.1,152.4 122.4,152.3 122.8,152.6 123.2,152.7 123.6,152.5 124.0,152.3 124.3,152.7 124.7,152.2 125.1,152.6 125.5,152.5 125.8,152.3 126.2,152.4 126.6,152.4 127.0,152.0 127.4,152.2 127.7,152.3 128.1,152.1 128.5,151.7 128.9,151.4 129.2,151.1 129.6,150.0 130.0,149.3 130.4,148.4 130.8,147.8 131.1,147.6 131.5,147.9 131.9,148.4 132.3,149.5 132.6,150.3 133.0,151.2 133.4,151.4 133.8,152.1 134.1,152.2 134.5,152.1 134.9,152.5 135.3,152.5 135.7,152.3 136.0,152.2 136.4,152.5 136.8,152.1 137.2,152.7 137.5,152.7 137.9,151.5 138.3,152.7 138.7,152.3 139.1,152.6 139.4,152.7 139.8,152.3 140.2,152.4 140.6,152.7 140.9,152.6 141.3,152.6 141.7,152.4 142.1,152.6 142.5,152.3 142.8,152.4 143.2,152.4 143.6,152.3 144.0,152.5 144.3,152.3 144.7,152.8 145.1,152.5 145.5,152.7 145.9,152.5 146.2,152.3 146.6,152.5 147.0,152.3 147.4,152.4 147.7,152.6 148.1,152.3 148.5,152.7 148.9,152.6 149.3,152.3 149.6,152.5 150.0,152.7 150.4,152.4 150.8,152.3 151.1,152.4 151.5,152.5 151.9,152.4 152.3,152.3 152.6,152.5 153.0,152.5 153.4,152.6 153.8,152.7 154.2,152.5 154.5,152.2 154.9,152.3 155.3,152.3 155.7,152.7 156.0,152.2 156.4,152.5 156.8,152.4 157.2,152.3 157.6,152.5 157.9,152.5 158.3,152.5 158.7,152.2 159.1,152.2 159.4,152.2 159.8,152.2 160.2,152.2 160.6,152.3 161.0,152.2 161.3,152.4 161.7,152.5 162.1,152.4 162.5,151.4 162.8,151.8 163.2,152.2 163.6,152.0 164.0,151.4 164.4,151.9 164.7,152.0 165.1,152.1 165.5,151.9 165.9,152.3 166.2,152.0 166.6,151.3 167.0,151.2 167.4,152.1 167.8,151.4 168.1,151.8 168.5,151.5 168.9,151.8 169.3,151.6 169.6,150.8 170.0,151.5 170.4,151.6 170.8,151.5 171.1,151.1 171.5,151.4 171.9,151.1 172.3,151.2 172.7,150.8 173.0,150.9 173.4,150.7 173.8,150.2 174.2,150.4 174.5,150.1 174.9,149.8 175.3,149.3 175.7,149.3 176.1,148.5 176.4,148.6 176.8,147.7 177.2,147.5 177.6,147.2 177.9,146.5 178.3,145.8 178.7,145.1 179.1,144.0 179.5,143.0 179.8,141.6 180.2,140.1 180.6,138.0 181.0,135.2 181.1,134.0 181.2,132.4 181.3,131.4 181.4,130.8 181.5,129.7 181.6,128.9 181.6,128.7 181.7,128.6 181.7,128.6 181.8,128.7 181.8,128.9 181.9,129.7 182.0,130.6 182.1,131.5 182.1,132.1 182.3,133.2 182.5,134.1 182.9,133.8 183.2,131.0 183.6,126.6 183.6,126.5 183.8,124.4 183.9,122.3 184.0,121.3 184.0,121.1 184.1,120.2 184.1,120.0 184.2,119.9 184.2,120.0 184.3,120.2 184.4,120.7 184.4,121.1 184.5,122.3 184.6,124.4 184.7,125.8 184.8,126.6 185.1,130.7 185.5,134.4 185.9,137.3 186.3,139.6 186.6,141.5 187.0,143.0 187.4,144.3 187.8,145.5 188.1,146.3 188.5,147.1 188.9,147.7 189.3,148.4 189.6,148.8 190.0,149.3 190.4,149.5 190.8,149.9 191.2,150.2 191.5,150.3 191.9,150.4 192.3,150.8 192.7,150.8 193.0,150.8 193.4,151.1 193.8,151.4 194.2,151.3 194.6,151.5 194.9,151.1 195.3,151.5 195.7,151.5 196.1,151.5 196.4,151.1 196.8,151.7 197.2,151.9 197.6,151.9 198.0,151.8 198.3,152.1 198.7,152.2 199.1,152.3 199.5,152.0 199.8,152.2 200.2,152.2 200.6,152.4 201.0,152.4 201.4,152.2 201.7,152.1 202.1,151.5 202.5,152.2 202.9,152.4 203.2,152.4 203.6,152.1 204.0,151.7 204.4,152.4 204.8,152.4 205.1,152.5 205.5,152.2 205.9,152.5 206.3,152.2 206.6,151.9 207.0,152.4 207.4,152.6 207.8,152.3 208.1,152.3 208.5,152.6 208.9,151.5 209.3,152.4 209.7,151.9 210.0,152.7 210.4,151.6 210.8,152.3 211.2,152.6 211.5,152.4 211.9,152.4 212.3,152.3 212.7,151.7 213.1,152.7 213.4,152.6 213.8,151.6 214.2,152.3 214.6,152.7 214.9,152.6 215.3,152.4 215.7,151.9 215.7,157.3 215.3,157.0 214.9,157.0 214.6,157.0 214.2,156.9 213.8,156.9 213.4,157.2 213.1,157.0 212.7,156.9 212.3,156.9 211.9,156.9 211.5,157.0 211.2,156.9 210.8,156.9 210.4,156.8 210.0,156.9 209.7,156.9 209.3,157.2 208.9,156.8 208.5,156.9 208.1,156.8 207.8,156.8 207.4,156.7 207.0,156.8 206.6,156.8 206.3,156.8 205.9,156.8 205.5,156.8 205.1,156.7 204.8,156.6 204.4,156.7 204.0,156.7 203.6,156.7 203.2,156.6 202.9,156.7 202.5,156.6 202.1,156.6 201.7,156.6 201.4,156.4 201.0,156.5 200.6,156.5 200.2,156.5 199.8,156.4 199.5,156.3 199.1,156.3 198.7,156.1 198.3,156.1 198.0,156.1 197.6,156.0 197.2,155.9 196.8,155.9 196.4,155.8 196.1,155.8 195.7,155.5 195.3,155.8 194.9,155.4 194.6,155.3 194.2,155.1 193.8,155.0 193.4,154.8 193.0,154.5 192.7,154.7 192.3,154.1 191.9,153.8 191.5,153.5 191.2,153.2 190.8,152.8 190.4,152.4 190.0,151.9 189.6,151.3 189.3,150.7 188.9,150.0 188.5,149.1 188.1,148.2 187.8,147.1 187.4,145.8 187.0,144.3 186.6,142.5 186.3,140.5 185.9,138.0 185.5,134.9 185.1,130.9 184.8,126.8 184.7,126.0 184.6,124.6 184.5,122.4 184.4,121.2 184.4,120.8 184.3,120.3 184.2,120.1 184.2,120.0 184.1,120.1 184.1,120.3 184.0,121.2 184.0,121.3 183.9,122.4 183.8,124.6 183.6,126.7 183.6,126.8 183.2,131.3 182.9,134.2 182.5,134.5 182.3,133.6 182.1,132.4 182.1,131.9 182.0,130.9 181.9,129.9 181.8,129.1 181.8,128.9 181.7,128.9 181.7,128.9 181.6,128.9 181.6,129.2 181.5,130.0 181.4,131.0 181.3,131.7 181.2,132.8 181.1,134.4 181.0,135.7 180.6,138.7 180.2,141.0 179.8,142.8 179.5,144.3 179.1,145.6 178.7,146.7 178.3,147.6 177.9,148.5 177.6,149.2 177.2,149.9 176.8,150.5 176.4,151.0 176.1,151.6 175.7,152.0 175.3,152.4 174.9,152.8 174.5,153.1 174.2,153.3 173.8,153.7 173.4,153.8 173.0,154.1 172.7,154.4 172.3,154.6 171.9,154.7 171.5,154.9 171.1,155.0 170.8,155.2 170.4,155.2 170.0,155.3 169.6,155.5 169.3,155.5 168.9,155.7 168.5,155.7 168.1,155.8 167.8,155.9 167.4,156.0 167.0,156.1 166.6,156.1 166.2,156.2 165.9,156.4 165.5,156.2 165.1,156.2 164.7,156.3 164.4,156.3 164.0,156.4 163.6,156.6 163.2,156.5 162.8,156.5 162.5,156.6 162.1,156.6 161.7,156.5 161.3,156.6 161.0,156.7 160.6,156.6 160.2,156.6 159.8,157.0 159.4,156.8 159.1,156.7 158.7,157.1 158.3,156.7 157.9,156.8 157.6,157.0 157.2,156.8 156.8,157.1 156.4,156.9 156.0,156.7 155.7,157.2 155.3,157.1 154.9,156.9 154.5,157.1 154.2,156.9 153.8,156.9 153.4,156.9 153.0,156.8 152.6,156.9 152.3,156.8 151.9,156.9 151.5,156.8 151.1,157.1 150.8,157.0 150.4,156.9 150.0,157.0 149.6,157.0 149.3,156.9 148.9,157.0 148.5,157.0 148.1,156.9 147.7,156.9 147.4,157.0 147.0,156.9 146.6,156.9 146.2,157.0 145.9,157.0 145.5,156.9 145.1,157.0 144.7,157.0 144.3,157.0 144.0,156.8 143.6,157.0 143.2,156.9 142.8,157.0 142.5,157.2 142.1,156.9 141.7,156.9 141.3,157.0 140.9,156.9 140.6,157.0 140.2,156.9 139.8,157.2 139.4,156.9 139.1,156.8 138.7,156.9 138.3,156.9 137.9,157.2 137.5,157.2 137.2,157.1 136.8,156.7 136.4,156.8 136.0,156.6 135.7,156.5 135.3,156.6 134.9,156.5 134.5,156.7 134.1,156.3 133.8,156.1 133.4,155.6 133.0,154.6 132.6,153.5 132.3,152.2 131.9,151.0 131.5,150.2 131.1,149.8 130.8,150.1 130.4,150.9 130.0,152.0 129.6,153.4 129.2,154.8 128.9,155.4 128.5,156.0 128.1,156.2 127.7,156.3 127.4,156.4 127.0,156.6 126.6,156.6 126.2,156.7 125.8,156.7 125.5,156.9 125.1,156.8 124.7,156.8 124.3,156.8 124.0,157.1 123.6,156.9 123.2,156.8 122.8,156.8 122.4,156.9 122.1,156.9 121.7,156.8 121.3,156.9 120.9,157.0 120.6,157.1 120.2,156.9 119.8,156.9 119.4,157.0 119.0,157.0 118.7,157.0 118.3,156.9 117.9,156.9 117.5,156.9 117.2,156.9 116.8,157.2 116.4,157.0 116.0,156.9 115.6,156.9 115.3,156.9 114.9,157.0 114.5,157.2 114.1,156.8 113.8,156.9 113.4,156.9 113.0,156.9 112.6,156.8 112.3,157.0 111.9,157.0 111.5,157.0 111.1,156.8 110.7,156.9 110.4,156.8 110.0,156.9 109.6,156.9 109.2,156.8 108.9,156.8 108.5,157.1 108.1,156.8 107.7,156.9 107.3,156.9 107.0,156.8 106.6,156.8 106.2,156.7 105.8,156.8 105.5,156.8 105.1,156.7 104.7,156.7 104.3,156.8 103.9,156.7 103.6,156.7 103.2,156.7 102.8,156.7 102.4,156.7 102.1,156.6 101.7,156.6 101.3,156.5 100.9,156.4 100.5,156.4 100.2,156.4 99.8,156.4 99.4,156.3 99.0,156.3 98.7,156.2 98.3,156.2 97.9,156.2 97.5,156.1 97.1,156.0 96.8,156.0 96.4,155.9 96.0,155.8 95.6,155.7 95.3,155.9 94.9,155.6 94.5,155.4 94.1,155.3 93.8,155.3 93.4,155.4 93.0,154.9 92.6,154.8 92.2,154.7 91.9,154.4 91.5,154.2 91.1,154.0 90.7,153.7 90.4,153.4 90.0,153.1 89.6,152.8 89.2,152.4 88.8,152.0 88.5,151.5 88.1,151.0 87.7,150.4 87.3,149.8 87.0,149.1 86.6,148.4 86.2,147.5 85.8,146.5 85.4,145.4 85.1,144.2 84.7,142.6 84.3,140.9 83.9,138.9 83.6,136.4 83.2,133.3 83.0,131.7 82.9,130.2 82.8,129.7 82.7,128.8 82.6,128.0 82.5,127.4 82.5,127.3 82.4,127.3 82.4,127.3 82.4,127.3 82.3,127.4 82.2,128.0 82.1,128.8 82.0,129.3 82.0,130.2 81.8,131.7 81.7,132.9 81.3,136.1 80.9,138.6 80.5,140.7 80.2,142.4 79.8,143.9 79.4,145.2 79.0,146.3 78.6,147.4 78.3,148.2 77.9,149.0 77.5,149.7 77.1,150.4 76.8,151.0 76.4,151.4 76.0,151.9 75.6,152.3 75.3,152.7 74.9,153.0 74.5,153.4 74.1,153.7 73.7,154.0 73.4,154.2 73.0,154.4 72.6,154.6 72.2,154.8 71.9,155.0 71.5,155.1 71.1,155.1 70.7,155.3 70.3,155.4 70.0,155.5 69.6,155.6 69.2,155.7 68.8,155.8 68.5,155.9 68.1,156.0 67.7,155.9 67.3,156.1 66.9,156.2 66.6,156.2 66.2,156.2 65.8,156.3 65.4,156.3 65.1,156.6 64.7,156.4 64.3,156.3 63.9,156.5 63.5,156.4 63.2,156.5 62.8,156.7 62.4,156.5 62.0,156.6 61.7,156.6 61.3,156.6 60.9,156.6 60.5,156.6 60.1,156.6 59.8,156.6 59.4,156.7 59.0,156.7 58.6,156.7 58.3,156.6 57.9,156.9 57.5,156.7 57.1,156.6 56.8,156.8 56.4,156.8 56.0,156.8 55.6,157.1 55.2,156.8 54.9,156.8 54.5,156.8 54.1,156.8 53.7,156.7 53.4,156.8 53.0,156.8 52.6,156.8 52.2,157.1 51.8,156.8 51.5,156.7 51.1,156.8 50.7,156.8 50.3,156.8 50.0,156.7 49.6,156.8 49.2,156.7 48.8,156.7 48.4,156.7 48.1,156.8 47.7,156.7 47.3,156.7 46.9,156.7 46.6,156.7 46.2,156.8 45.8,156.7 45.4,156.7 45.0,156.6 44.7,156.6 44.3,156.7 43.9,156.6 43.5,156.7 43.2,156.6 42.8,156.7 42.4,156.7 42.0,156.5 41.6,156.5 41.3,156.5 40.9,156.4 40.5,156.4 40.1,156.4 39.8,156.3 39.4,156.2 39.0,156.4 38.6,156.1 38.3,156.0 37.9,155.8 37.5,155.5 37.1,155.1 36.7,154.6 36.4,154.0 36.0,152.9 35.6,151.8 35.2,150.6 34.9,149.5 34.5,148.5 34.1,147.6 33.7,147.0 33.3,146.7 33.0,146.5 32.6,146.8 32.2,147.3 31.8,148.1 31.5,148.9 31.1,150.0 30.7,151.2 30.3,152.3 29.9,153.3 29.6,154.2 29.2,154.8 28.8,155.3 28.4,155.5 28.1,155.8 27.7,156.0 27.3,156.1 26.9,156.1 26.5,156.2 26.2,156.5 25.8,156.3 25.4,156.3 25.0,156.4 24.7,156.4 24.3,156.5 23.9,156.5 23.5,156.4 23.1,156.5 22.8,156.4 22.4,156.4 22.0,156.4 21.6,156.5 21.3,156.4 20.9,156.5 20.5,156.6 20.1,156.5 19.8,156.5" fill="#ff7f0e" stroke="#ff7f0e" stroke-width="0.7" stroke-linejoin="round"/>
<polygon points="19.8,177.8 20.1,177.3 20.5,176.1 20.9,177.9 21.3,177.6 21.6,177.5 22.0,177.8 22.4,177.7 22.8,175.9 23.1,177.6 23.5,177.7 23.9,176.9 24.3,177.6 24.7,177.6 25.0,175.6 25.4,177.1 25.8,176.6 26.2,176.8 26.5,176.8 26.9,175.7 27.3,175.4 27.7,174.0 28.1,174.3 28.4,173.5 28.8,171.9 29.2,171.8 29.6,171.2 29.9,171.0 30.3,169.9 30.7,169.2 31.1,169.3 31.5,168.7 31.8,168.5 32.2,168.1 32.6,167.2 33.0,167.6 33.3,167.8 33.7,167.6 34.1,168.2 34.5,168.4 34.9,168.5 35.2,168.9 35.6,169.5 36.0,170.5 36.4,171.1 36.7,171.5 37.1,171.4 37.5,173.2 37.9,173.9 38.3,174.9 38.6,175.4 39.0,175.5 39.4,174.2 39.8,176.1 40.1,176.3 40.5,177.2 40.9,177.4 41.3,176.9 41.6,177.8 42.0,177.2 42.4,175.8 42.8,177.5 43.2,178.0 43.5,176.3 43.9,177.0 44.3,177.9 44.7,177.1 45.0,177.7 45.4,177.6 45.8,177.0 46.2,176.9 46.6,177.8 46.9,176.8 47.3,176.9 47.7,177.8 48.1,177.5 48.4,177.3 48.8,177.2 49.2,177.3 49.6,177.1 50.0,176.7 50.3,176.8 50.7,176.9 51.1,175.6 51.5,176.9 51.8,177.3 52.2,177.3 52.6,177.3 53.0,176.9 53.4,175.3 53.7,176.3 54.1,176.7 54.5,177.1 54.9,176.6 55.2,176.5 55.6,176.3 56.0,176.7 56.4,176.5 56.8,176.0 57.1,176.1 57.5,175.9 57.9,175.9 58.3,176.0 58.6,174.3 59.0,176.6 59.4,176.2 59.8,175.5 60.1,175.9 60.5,175.7 60.9,175.4 61.3,175.5 61.7,175.5 62.0,175.0 62.4,175.7 62.8,175.1 63.2,174.6 63.5,175.1 63.9,175.2 64.3,174.2 64.7,174.6 65.1,174.6 65.4,174.1 65.8,173.6 66.2,174.0 66.6,173.4 66.9,172.1 67.3,172.3 67.7,172.5 68.1,172.5 68.5,172.8 68.8,172.0 69.2,171.6 69.6,171.4 70.0,171.4 70.3,171.0 70.7,170.7 71.1,169.8 71.5,169.9 71.9,169.8 72.2,169.3 72.6,169.0 73.0,167.4 73.4,167.8 73.7,166.7 74.1,167.2 74.5,166.0 74.9,166.2 75.3,166.0 75.6,165.4 76.0,164.7 76.4,164.1 76.8,163.0 77.1,160.6 77.2,160.2 77.3,159.0 77.5,158.0 77.5,157.8 77.6,157.4 77.7,156.9 77.8,157.1 77.8,156.8 77.8,156.9 77.9,157.1 77.9,157.2 78.0,157.4 78.1,157.7 78.2,159.1 78.3,159.2 78.4,160.1 78.6,161.9 79.0,163.4 79.4,164.0 79.8,164.4 80.2,164.5 80.5,163.7 80.9,162.5 81.3,160.6 81.7,157.2 81.8,155.6 82.0,154.1 82.0,152.9 82.1,152.3 82.2,151.3 82.3,150.3 82.4,150.2 82.4,150.2 82.4,150.1 82.5,150.0 82.5,150.4 82.6,151.1 82.7,152.2 82.8,153.5 82.9,154.2 83.0,155.5 83.2,157.5 83.6,161.2 83.9,163.4 84.3,165.4 84.7,167.3 85.1,168.3 85.4,168.9 85.8,169.8 86.2,170.4 86.6,171.0 87.0,171.1 87.3,171.9 87.7,172.2 88.1,172.1 88.5,172.3 88.8,173.1 89.2,173.5 89.6,173.6 90.0,173.9 90.4,173.4 90.7,174.4 91.1,174.1 91.5,173.1 91.9,174.8 92.2,174.8 92.6,174.8 93.0,174.6 93.4,175.5 93.8,175.3 94.1,174.9 94.5,175.5 94.9,175.8 95.3,175.7 95.6,175.9 96.0,175.6 96.4,176.5 96.8,176.0 97.1,175.7 97.5,175.9 97.9,176.6 98.3,176.6 98.7,176.4 99.0,176.2 99.4,176.7 99.8,176.9 100.2,176.2 100.5,176.2 100.9,177.0 101.3,175.4 101.7,177.1 102.1,176.5 102.4,177.3 102.8,176.9 103.2,177.2 103.6,176.7 103.9,176.9 104.3,176.9 104.7,177.0 105.1,176.0 105.5,177.2 105.8,177.5 106.2,177.3 106.6,177.5 107.0,177.2 107.3,176.7 107.7,177.3 108.1,176.9 108.5,176.8 108.9,177.7 109.2,177.4 109.6,177.4 110.0,175.9 110.4,177.4 110.7,177.1 111.1,177.4 111.5,177.5 111.9,177.7 112.3,177.4 112.6,177.2 113.0,176.1 113.4,177.8 113.8,177.2 114.1,178.0 114.5,176.3 114.9,177.3 115.3,178.0 115.6,177.8 116.0,177.3 116.4,177.3 116.8,178.2 117.2,178.1 117.5,177.2 117.9,177.2 118.3,178.2 118.7,177.9 119.0,176.2 119.4,177.2 119.8,177.9 120.2,177.7 120.6,177.9 120.9,178.0 121.3,176.3 121.7,177.9 122.1,178.2 122.4,178.0 122.8,177.6 123.2,176.5 123.6,177.9 124.0,177.7 124.3,177.4 124.7,177.3 125.1,177.9 125.5,177.4 125.8,177.1 126.2,176.7 126.6,176.6 127.0,176.4 127.4,175.2 127.7,175.0 128.1,174.6 128.5,173.8 128.9,173.4 129.2,172.8 129.6,172.5 130.0,172.5 130.4,172.2 130.8,172.4 131.1,172.4 131.5,171.5 131.9,172.5 132.3,173.2 132.6,173.3 133.0,173.5 133.4,174.4 133.8,174.8 134.1,175.5 134.5,175.4 134.9,176.5 135.3,176.3 135.7,176.3 136.0,176.5 136.4,177.2 136.8,176.0 137.2,177.3 137.5,177.2 137.9,177.3 138.3,177.3 138.7,177.2 139.1,177.3 139.4,177.3 139.8,177.6 140.2,176.3 140.6,177.9 140.9,177.6 141.3,177.6 141.7,177.5 142.1,178.1 142.5,178.1 142.8,177.7 143.2,177.8 143.6,177.5 144.0,177.8 144.3,178.2 144.7,178.2 145.1,177.8 145.5,177.4 145.9,178.0 146.2,177.4 146.6,177.4 147.0,177.5 147.4,177.7 147.7,177.6 148.1,177.6 148.5,177.7 148.9,177.0 149.3,178.0 149.6,178.1 150.0,177.0 150.4,177.2 150.8,177.4 151.1,177.8 151.5,177.0 151.9,177.5 152.3,177.4 152.6,177.7 153.0,177.3 153.4,177.1 153.8,175.6 154.2,177.5 154.5,177.1 154.9,177.6 155.3,177.3 155.7,176.8 156.0,177.0 156.4,176.5 156.8,177.2 157.2,177.2 157.6,176.6 157.9,175.0 158.3,176.4 158.7,176.4 159.1,176.7 159.4,176.4 159.8,176.6 160.2,176.1 160.6,176.2 161.0,176.1 161.3,175.4 161.7,175.1 162.1,175.1 162.5,175.1 162.8,174.5 163.2,174.4 163.6,174.6 164.0,172.9 164.4,173.9 164.7,173.7 165.1,173.3 165.5,172.7 165.9,172.9 166.2,171.5 166.6,171.6 167.0,171.3 167.4,170.9 167.8,170.4 168.1,169.8 168.5,169.4 168.9,168.7 169.3,167.7 169.6,167.1 170.0,166.5 170.4,165.6 170.8,164.7 171.1,163.6 171.5,162.6 171.9,160.9 172.3,159.5 172.7,158.5 173.0,158.6 173.4,159.8 173.8,161.2 174.2,162.8 174.5,163.8 174.9,164.9 175.3,165.5 175.7,166.2 176.1,167.0 176.4,167.1 176.8,167.7 177.2,167.7 177.6,167.1 177.9,167.3 178.3,167.2 178.7,166.2 179.1,165.2 179.5,164.2 179.8,162.6 180.2,160.7 180.6,158.7 181.0,156.2 181.3,154.2 181.7,153.4 182.1,154.1 182.5,156.6 182.9,158.5 183.2,160.4 183.6,160.8 184.0,159.8 184.3,157.0 184.4,155.9 184.5,154.4 184.6,151.0 184.7,148.0 184.7,146.6 184.8,144.1 184.8,142.4 184.9,141.6 185.0,142.4 185.0,144.1 185.1,147.8 185.1,148.4 185.2,151.1 185.3,154.5 185.5,157.1 185.5,157.2 185.9,161.3 186.3,163.9 186.6,166.2 187.0,167.7 187.4,168.7 187.8,169.9 188.1,170.4 188.5,171.0 188.9,172.2 189.3,171.7 189.6,172.8 190.0,173.6 190.4,172.2 190.8,173.9 191.2,174.6 191.5,174.4 191.9,174.5 192.3,175.3 192.7,175.7 193.0,175.7 193.4,176.2 193.8,175.5 194.2,175.8 194.6,176.3 194.9,176.1 195.3,176.7 195.7,176.3 196.1,177.0 196.4,176.4 196.8,176.7 197.2,176.7 197.6,177.3 198.0,175.7 198.3,176.8 198.7,177.3 199.1,176.6 199.5,175.8 199.8,177.7 200.2,177.5 200.6,177.5 201.0,176.9 201.4,177.1 201.7,177.9 202.1,177.0 202.5,175.6 202.9,176.2 203.2,177.4 203.6,178.0 204.0,177.8 204.4,177.9 204.8,175.9 205.1,178.1 205.5,178.0 205.9,178.0 206.3,178.2 206.6,178.1 207.0,177.5 207.4,178.1 207.8,177.8 208.1,177.2 208.5,177.4 208.9,176.5 209.3,177.9 209.7,177.2 210.0,177.6 210.4,178.2 210.8,178.0 211.2,177.6 211.5,176.7 211.9,177.8 212.3,176.7 212.7,177.8 213.1,177.3 213.4,177.7 213.8,178.1 214.2,176.1 214.6,178.1 214.9,177.5 215.3,178.3 215.7,178.0 215.7,182.7 215.3,182.7 214.9,182.5 214.6,182.6 214.2,182.5 213.8,182.7 213.4,182.5 213.1,182.8 212.7,183.3 212.3,182.7 211.9,182.6 211.5,182.5 211.2,182.5 210.8,182.6 210.4,182.6 210.0,182.6 209.7,182.7 209.3,182.7 208.9,182.5 208.5,182.3 208.1,182.3 207.8,183.2 207.4,182.5 207.0,182.4 206.6,182.5 206.3,182.4 205.9,182.9 205.5,182.5 205.1,182.4 204.8,182.4 204.4,182.4 204.0,182.2 203.6,182.3 203.2,182.2 202.9,182.1 202.5,182.2 202.1,182.2 201.7,181.8 201.4,182.0 201.0,182.1 200.6,181.8 200.2,181.9 199.8,181.6 199.5,181.6 199.1,181.8 198.7,181.6 198.3,181.5 198.0,181.6 197.6,181.4 197.2,181.4 196.8,181.2 196.4,181.0 196.1,180.8 195.7,180.9 195.3,180.5 194.9,180.6 194.6,180.5 194.2,180.4 193.8,179.9 193.4,179.8 193.0,179.4 192.7,179.5 192.3,179.0 191.9,178.9 191.5,178.3 191.2,178.0 190.8,177.6 190.4,177.3 190.0,176.7 189.6,176.1 189.3,175.6 188.9,174.9 188.5,174.3 188.1,173.4 187.8,172.4 187.4,171.2 187.0,169.7 186.6,168.3 186.3,165.8 185.9,162.7 185.5,158.1 185.5,158.0 185.3,155.4 185.2,151.8 185.1,149.2 185.1,148.6 185.0,144.6 185.0,142.8 184.9,142.0 184.8,142.8 184.8,144.6 184.7,147.0 184.7,148.6 184.6,151.9 184.5,155.4 184.4,156.9 184.3,157.9 184.0,161.1 183.6,162.3 183.2,161.7 182.9,159.8 182.5,157.5 182.1,155.3 181.7,154.2 181.3,155.1 181.0,157.3 180.6,159.7 180.2,162.1 179.8,164.1 179.5,165.8 179.1,167.2 178.7,168.4 178.3,169.1 177.9,169.7 177.6,170.0 177.2,170.0 176.8,169.8 176.4,169.5 176.1,169.0 175.7,168.7 175.3,167.6 174.9,166.8 174.5,165.6 174.2,164.3 173.8,162.9 173.4,161.0 173.0,159.8 172.7,159.6 172.3,160.6 171.9,162.5 171.5,164.0 171.1,165.6 170.8,166.6 170.4,167.6 170.0,168.4 169.6,169.4 169.3,170.3 168.9,170.9 168.5,171.6 168.1,172.4 167.8,172.9 167.4,173.6 167.0,174.3 166.6,174.7 166.2,175.3 165.9,175.9 165.5,176.2 165.1,177.1 164.7,177.0 164.4,177.3 164.0,177.7 163.6,178.2 163.2,178.4 162.8,178.6 162.5,179.1 162.1,179.3 161.7,179.5 161.3,180.3 161.0,180.1 160.6,180.0 160.2,180.2 159.8,180.5 159.4,180.7 159.1,180.9 158.7,180.9 158.3,180.9 157.9,181.0 157.6,181.0 157.2,181.1 156.8,181.5 156.4,181.4 156.0,181.5 155.7,181.5 155.3,181.8 154.9,181.6 154.5,182.3 154.2,181.8 153.8,181.9 153.4,182.4 153.0,182.0 152.6,181.9 152.3,182.2 151.9,182.0 151.5,181.9 151.1,182.0 150.8,182.3 150.4,182.2 150.0,182.1 149.6,183.0 149.3,182.4 148.9,182.3 148.5,182.3 148.1,182.3 147.7,182.3 147.4,182.6 147.0,182.5 146.6,182.2 146.2,182.3 145.9,182.3 145.5,182.3 145.1,182.5 144.7,182.4 144.3,182.6 144.0,182.5 143.6,182.4 143.2,182.3 142.8,182.6 142.5,182.6 142.1,182.6 141.7,182.3 141.3,182.7 140.9,182.7 140.6,182.7 140.2,182.4 139.8,182.4 139.4,182.5 139.1,182.4 138.7,182.7 138.3,182.3 137.9,182.4 137.5,182.5 137.2,182.3 136.8,181.9 136.4,181.8 136.0,181.6 135.7,181.2 135.3,180.7 134.9,180.4 134.5,179.6 134.1,179.0 133.8,178.4 133.4,177.7 133.0,177.6 132.6,176.5 132.3,176.1 131.9,175.8 131.5,175.6 131.1,175.3 130.8,175.3 130.4,175.4 130.0,175.7 129.6,175.9 129.2,176.5 128.9,176.9 128.5,177.6 128.1,178.2 127.7,178.8 127.4,179.6 127.0,179.9 126.6,180.5 126.2,181.2 125.8,181.3 125.5,181.8 125.1,181.9 124.7,182.1 124.3,183.1 124.0,182.5 123.6,182.5 123.2,182.2 122.8,182.5 122.4,182.3 122.1,182.5 121.7,182.6 121.3,182.3 120.9,182.4 120.6,182.2 120.2,182.6 119.8,182.2 119.4,182.4 119.0,182.6 118.7,182.2 118.3,182.2 117.9,182.4 117.5,182.6 117.2,182.2 116.8,182.9 116.4,182.2 116.0,182.3 115.6,182.5 115.3,182.1 114.9,182.3 114.5,182.5 114.1,182.3 113.8,182.4 113.4,182.3 113.0,182.1 112.6,182.3 112.3,182.3 111.9,182.1 111.5,182.0 111.1,182.0 110.7,182.1 110.4,182.0 110.0,182.2 109.6,182.2 109.2,182.2 108.9,181.8 108.5,181.9 108.1,181.8 107.7,182.0 107.3,181.9 107.0,181.8 106.6,182.0 106.2,181.6 105.8,181.8 105.5,181.7 105.1,181.6 104.7,181.6 104.3,181.6 103.9,181.4 103.6,181.6 103.2,181.6 102.8,181.5 102.4,181.2 102.1,181.2 101.7,181.3 101.3,181.1 100.9,181.3 100.5,181.0 100.2,180.8 99.8,181.1 99.4,180.9 99.0,180.8 98.7,180.5 98.3,180.6 97.9,180.5 97.5,180.6 97.1,180.2 96.8,180.1 96.4,180.7 96.0,179.9 95.6,179.8 95.3,179.6 94.9,179.7 94.5,179.6 94.1,179.3 93.8,179.4 93.4,178.9 93.0,179.4 92.6,178.6 92.2,179.1 91.9,178.3 91.5,178.0 91.1,177.9 90.7,177.8 90.4,177.4 90.0,177.0 89.6,176.9 89.2,176.5 88.8,176.2 88.5,175.8 88.1,175.4 87.7,175.2 87.3,174.7 87.0,174.1 86.6,173.6 86.2,173.0 85.8,172.2 85.4,171.4 85.1,170.4 84.7,169.1 84.3,167.5 83.9,165.4 83.6,162.7 83.2,159.0 83.0,156.9 82.9,155.0 82.8,154.3 82.7,153.0 82.6,151.9 82.5,151.1 82.5,150.9 82.4,150.8 82.4,150.8 82.4,150.9 82.3,151.1 82.2,152.0 82.1,153.0 82.0,153.7 82.0,154.9 81.8,157.0 81.7,158.4 81.3,162.0 80.9,164.2 80.5,165.5 80.2,166.3 79.8,166.1 79.4,165.7 79.0,164.9 78.6,163.2 78.4,161.5 78.3,160.6 78.2,160.3 78.1,159.2 78.0,158.6 77.9,158.1 77.9,158.2 77.8,158.2 77.8,158.0 77.8,158.0 77.7,158.2 77.6,158.5 77.5,159.0 77.5,159.1 77.3,160.3 77.2,161.6 77.1,162.0 76.8,164.4 76.4,165.7 76.0,166.6 75.6,167.3 75.3,167.8 74.9,168.4 74.5,168.8 74.1,169.4 73.7,169.8 73.4,170.3 73.0,170.8 72.6,171.3 72.2,172.2 71.9,172.2 71.5,172.7 71.1,173.0 70.7,173.6 70.3,174.3 70.0,174.2 69.6,174.6 69.2,175.0 68.8,175.2 68.5,175.5 68.1,176.4 67.7,176.4 67.3,176.4 66.9,176.7 66.6,177.0 66.2,177.3 65.8,177.4 65.4,177.6 65.1,178.0 64.7,178.1 64.3,178.5 63.9,179.0 63.5,178.7 63.2,178.9 62.8,179.1 62.4,179.6 62.0,179.4 61.7,179.4 61.3,179.7 60.9,179.8 60.5,179.9 60.1,179.8 59.8,180.2 59.4,180.3 59.0,180.4 58.6,180.5 58.3,180.4 57.9,180.5 57.5,180.6 57.1,181.2 56.8,180.7 56.4,180.7 56.0,180.7 55.6,181.8 55.2,180.9 54.9,181.1 54.5,182.0 54.1,181.3 53.7,181.2 53.4,181.5 53.0,182.2 52.6,181.3 52.2,181.6 51.8,181.5 51.5,181.7 51.1,181.8 50.7,181.7 50.3,181.8 50.0,181.9 49.6,181.6 49.2,181.9 48.8,181.7 48.4,181.9 48.1,181.8 47.7,182.0 47.3,181.7 46.9,181.8 46.6,181.8 46.2,181.8 45.8,181.9 45.4,182.0 45.0,182.6 44.7,182.2 44.3,182.0 43.9,181.9 43.5,182.3 43.2,182.1 42.8,182.2 42.4,182.1 42.0,182.0 41.6,181.8 41.3,182.0 40.9,181.8 40.5,182.1 40.1,181.1 39.8,180.6 39.4,180.4 39.0,179.6 38.6,179.1 38.3,178.7 37.9,177.2 37.5,176.5 37.1,175.5 36.7,175.1 36.4,173.8 36.0,172.9 35.6,172.2 35.2,171.6 34.9,171.2 34.5,170.6 34.1,170.2 33.7,169.9 33.3,169.9 33.0,169.9 32.6,170.0 32.2,170.2 31.8,170.5 31.5,170.9 31.1,171.6 30.7,172.0 30.3,172.7 29.9,173.5 29.6,174.5 29.2,175.2 28.8,176.2 28.4,177.0 28.1,177.9 27.7,178.8 27.3,179.4 26.9,180.2 26.5,180.6 26.2,181.2 25.8,181.4 25.4,181.8 25.0,182.5 24.7,182.1 24.3,182.0 23.9,182.1 23.5,182.2 23.1,182.0 22.8,182.4 22.4,182.2 22.0,182.2 21.6,182.0 21.3,182.6 20.9,182.2 20.5,182.3 20.1,182.0 19.8,182.2" fill="#f5127f" stroke="#f5127f" stroke-width="0.7" stroke-linejoin="round"/>
</g>
<rect x="19.15" y="42.65" width="197.15" height="146.35" fill="none" stroke="#585858" stroke-width="1.2"/>
<path d="M27.70 189.00 v-3.2 M38.42 189.00 v-2.0 M49.15 189.00 v-3.2 M59.88 189.00 v-2.0 M70.60 189.00 v-3.2 M81.33 189.00 v-2.0 M92.05 189.00 v-3.2 M102.78 189.00 v-2.0 M113.50 189.00 v-3.2 M124.23 189.00 v-2.0 M134.95 189.00 v-3.2 M145.67 189.00 v-2.0 M156.40 189.00 v-3.2 M167.12 189.00 v-2.0 M177.85 189.00 v-3.2 M188.57 189.00 v-2.0 M199.30 189.00 v-3.2 M210.02 189.00 v-2.0" stroke="#5a5a5a" stroke-width="0.8" fill="none"/>
<text x="27.70" y="199.00" font-size="8.2" text-anchor="middle" fill="#111" stroke="#111" stroke-width="0.25" >10</text>
<text x="49.15" y="199.00" font-size="8.2" text-anchor="middle" fill="#111" stroke="#111" stroke-width="0.25" >15</text>
<text x="70.60" y="199.00" font-size="8.2" text-anchor="middle" fill="#111" stroke="#111" stroke-width="0.25" >20</text>
<text x="92.05" y="199.00" font-size="8.2" text-anchor="middle" fill="#111" stroke="#111" stroke-width="0.25" >25</text>
<text x="113.50" y="199.00" font-size="8.2" text-anchor="middle" fill="#111" stroke="#111" stroke-width="0.25" >30</text>
<text x="134.95" y="199.00" font-size="8.2" text-anchor="middle" fill="#111" stroke="#111" stroke-width="0.25" >35</text>
<text x="156.40" y="199.00" font-size="8.2" text-anchor="middle" fill="#111" stroke="#111" stroke-width="0.25" >40</text>
<text x="177.85" y="199.00" font-size="8.2" text-anchor="middle" fill="#111" stroke="#111" stroke-width="0.25" >45</text>
<text x="199.30" y="199.00" font-size="8.2" text-anchor="middle" fill="#111" stroke="#111" stroke-width="0.25" >50</text>
<text x="119.2" y="212.8" font-size="10.4" text-anchor="middle" fill="#111" stroke="#111" stroke-width="0.3">2<tspan font-style="italic" dx="1.2">θ</tspan><tspan dx="1.0">(°)</tspan></text>
<text transform="translate(10.2 122.3) rotate(-90)" font-size="10.2" text-anchor="middle" fill="#111" stroke="#111" stroke-width="0.25">Intensity (a. u.)</text>
<text x="1.50" y="43.80" font-size="9.9" text-anchor="start" fill="#111" stroke="#111" stroke-width="0.28" >(a)</text>
<path d="M21 47.80 H37.6" stroke="#0c0cf6" stroke-width="1.25"/>
<text x="39.20" y="50.55" font-size="7.6" text-anchor="start" fill="#111" stroke="#111" stroke-width="0.3" >SRO/SCO /LSAT</text>
<path d="M21 57.17 H37.6" stroke="#0a7d0a" stroke-width="1.25"/>
<text x="39.20" y="59.92" font-size="7.6" text-anchor="start" fill="#111" stroke="#111" stroke-width="0.3" >LSMO/SCO /LSAT</text>
<path d="M21 66.54 H37.6" stroke="#ff7f0e" stroke-width="1.25"/>
<text x="39.20" y="69.29" font-size="7.6" text-anchor="start" fill="#111" stroke="#111" stroke-width="0.3" >STO/SCO/SRO/STO</text>
<path d="M21 75.91 H37.6" stroke="#f5127f" stroke-width="1.25"/>
<text x="39.20" y="78.66" font-size="7.6" text-anchor="start" fill="#111" stroke="#111" stroke-width="0.3" >PZT/SCO/SRO/STO</text>
<path d="M143.70 46.30 h5.60 l-2.80 5.40 z" fill="#000"/>
<text x="150.60" y="52.00" font-size="8.3" text-anchor="start" fill="#111" stroke="#111" stroke-width="0.3" >SCO</text>
<polygon points="146.60,57.00 147.39,59.11 149.64,59.21 147.88,60.62 148.48,62.79 146.60,61.54 144.72,62.79 145.32,60.62 143.56,59.21 145.81,59.11" fill="#000"/>
<text x="150.60" y="62.70" font-size="8.3" text-anchor="start" fill="#111" stroke="#111" stroke-width="0.3" >SRO</text>
<path d="M148.40 67.10 l3.20 3.20 l-3.20 3.20 l-3.20 -3.20 z" fill="#000"/>
<text x="155.00" y="73.00" font-size="8.3" text-anchor="start" fill="#111" stroke="#111" stroke-width="0.3" >LSMO</text>
<path d="M30.50 85.10 h4.80 l-2.40 4.20 z" fill="#000"/>
<path d="M78.40 84.60 h4.80 l-2.40 4.20 z" fill="#000"/>
<path d="M127.70 88.70 h4.80 l-2.40 4.20 z" fill="#000"/>
<path d="M179.60 80.30 h4.80 l-2.40 4.20 z" fill="#000"/>
<path d="M179.10 107.50 h4.80 l-2.40 4.20 z" fill="#000"/>
<path d="M30.70 139.40 h4.80 l-2.40 4.20 z" fill="#000"/>
<path d="M128.70 142.60 h4.80 l-2.40 4.20 z" fill="#000"/>
<polygon points="77.00,87.90 77.64,89.62 79.47,89.70 78.04,90.84 78.53,92.60 77.00,91.59 75.47,92.60 75.96,90.84 74.53,89.70 76.36,89.62" fill="#000"/>
<polygon points="176.20,81.60 176.84,83.32 178.67,83.40 177.24,84.54 177.73,86.30 176.20,85.29 174.67,86.30 175.16,84.54 173.73,83.40 175.56,83.32" fill="#000"/>
<polygon points="182.00,124.10 182.64,125.82 184.47,125.90 183.04,127.04 183.53,128.80 182.00,127.79 180.47,128.80 180.96,127.04 179.53,125.90 181.36,125.82" fill="#000"/>
<polygon points="181.80,148.20 182.44,149.92 184.27,150.00 182.84,151.14 183.33,152.90 181.80,151.89 180.27,152.90 180.76,151.14 179.33,150.00 181.16,149.92" fill="#000"/>
<path d="M186.00 103.00 l2.40 2.80 l-2.40 2.80 l-2.40 -2.80 z" fill="#000"/>
<text x="37.30" y="166.80" font-size="8.3" text-anchor="start" fill="#111" stroke="#111" stroke-width="0.3" >PZT(001)</text>
<text x="132.40" y="166.60" font-size="8.3" text-anchor="start" fill="#111" stroke="#111" stroke-width="0.3" >PZT(002)</text>
<path d="M71.8 162.6 L75.9 158.3" stroke="#000" stroke-width="0.9" fill="none"/>
<path d="M73.4 158.0 l3.2 -0.6 l-0.8 3.3 z" fill="#000"/>
<path d="M167.2 163.5 L171.0 159.7" stroke="#000" stroke-width="0.9" fill="none"/>
<path d="M168.6 159.4 l3.2 -0.6 l-0.8 3.3 z" fill="#000"/>
<g id="rsm">
<path d="M281.6 60.5h0.7v0.7h-0.7zM277.5 59.2h0.7v0.7h-0.7zM272.9 56.2h0.7v0.7h-0.7zM266.3 65.0h0.7v0.7h-0.7zM284.3 70.5h0.7v0.7h-0.7zM272.4 75.7h0.7v0.7h-0.7zM282.4 71.6h0.7v0.7h-0.7zM284.3 64.3h0.7v0.7h-0.7zM271.4 74.0h0.7v0.7h-0.7zM283.5 70.0h0.7v0.7h-0.7zM265.1 63.6h0.7v0.7h-0.7zM266.7 64.2h0.7v0.7h-0.7zM269.1 73.3h0.7v0.7h-0.7zM280.7 59.7h0.7v0.7h-0.7zM266.1 64.6h0.7v0.7h-0.7zM281.0 61.4h0.7v0.7h-0.7zM278.6 58.6h0.7v0.7h-0.7zM269.1 59.0h0.7v0.7h-0.7zM272.4 74.4h0.7v0.7h-0.7zM273.9 57.9h0.7v0.7h-0.7zM281.7 72.5h0.7v0.7h-0.7zM284.8 68.4h0.7v0.7h-0.7zM270.4 58.3h0.7v0.7h-0.7zM282.3 62.8h0.7v0.7h-0.7zM273.5 58.6h0.7v0.7h-0.7zM274.0 56.2h0.7v0.7h-0.7zM277.4 59.1h0.7v0.7h-0.7zM271.1 58.3h0.7v0.7h-0.7zM283.1 68.0h0.7v0.7h-0.7zM281.6 72.2h0.7v0.7h-0.7zM265.3 69.9h0.7v0.7h-0.7zM269.3 58.1h0.7v0.7h-0.7zM280.5 73.5h0.7v0.7h-0.7zM265.1 67.2h0.7v0.7h-0.7zM280.2 59.4h0.7v0.7h-0.7zM268.8 72.0h0.7v0.7h-0.7zM265.9 65.0h0.7v0.7h-0.7zM281.1 59.1h0.7v0.7h-0.7zM281.6 62.3h0.7v0.7h-0.7zM280.8 61.7h0.7v0.7h-0.7zM276.3 76.3h0.7v0.7h-0.7zM265.9 70.8h0.7v0.7h-0.7zM276.7 57.5h0.7v0.7h-0.7zM271.0 56.7h0.7v0.7h-0.7zM282.2 63.7h0.7v0.7h-0.7zM283.1 71.6h0.7v0.7h-0.7zM266.8 72.3h0.7v0.7h-0.7zM285.0 68.3h0.7v0.7h-0.7zM277.9 59.6h0.7v0.7h-0.7zM267.8 73.2h0.7v0.7h-0.7zM282.4 72.0h0.7v0.7h-0.7zM279.9 60.6h0.7v0.7h-0.7zM279.7 59.6h0.7v0.7h-0.7zM279.0 74.3h0.7v0.7h-0.7zM269.7 58.4h0.7v0.7h-0.7zM276.5 58.1h0.7v0.7h-0.7zM271.3 58.1h0.7v0.7h-0.7zM280.1 61.0h0.7v0.7h-0.7zM270.7 57.7h0.7v0.7h-0.7zM280.8 75.1h0.7v0.7h-0.7z" fill="#2a78ff"/>
<ellipse cx="274.80" cy="66.60" rx="9.20" ry="7.40" transform="rotate(36.0 274.80 66.60)" fill="#1840ff" filter="url(#rough)"/>
<ellipse cx="274.80" cy="66.60" rx="8.00" ry="5.20" transform="rotate(36.0 274.80 66.60)" fill="#00ccff" filter="url(#rough2)"/>
<ellipse cx="274.80" cy="66.60" rx="7.40" ry="3.80" transform="rotate(36.0 274.80 66.60)" fill="#14f03c"/>
<ellipse cx="274.80" cy="66.60" rx="6.90" ry="2.50" transform="rotate(36.0 274.80 66.60)" fill="#ffe800"/>
<ellipse cx="274.80" cy="66.60" rx="6.50" ry="1.35" transform="rotate(36.0 274.80 66.60)" fill="#e8100a"/>
<path d="M266.9 116.8h0.7v0.7h-0.7zM282.8 118.2h0.7v0.7h-0.7zM263.4 110.5h0.7v0.7h-0.7zM284.2 99.7h0.7v0.7h-0.7zM284.2 115.5h0.7v0.7h-0.7zM269.5 100.6h0.7v0.7h-0.7zM265.0 109.0h0.7v0.7h-0.7zM274.7 123.1h0.7v0.7h-0.7zM265.7 113.1h0.7v0.7h-0.7zM265.4 117.9h0.7v0.7h-0.7zM266.2 115.3h0.7v0.7h-0.7zM283.6 116.5h0.7v0.7h-0.7zM272.5 97.4h0.7v0.7h-0.7zM283.4 100.1h0.7v0.7h-0.7zM280.9 97.6h0.7v0.7h-0.7zM268.1 100.7h0.7v0.7h-0.7zM281.7 119.6h0.7v0.7h-0.7zM284.2 100.3h0.7v0.7h-0.7zM265.8 113.2h0.7v0.7h-0.7zM276.8 122.0h0.7v0.7h-0.7zM272.2 98.6h0.7v0.7h-0.7zM286.3 106.8h0.7v0.7h-0.7zM276.2 95.0h0.7v0.7h-0.7zM269.6 98.9h0.7v0.7h-0.7zM274.1 122.8h0.7v0.7h-0.7zM274.5 95.2h0.7v0.7h-0.7zM285.7 106.2h0.7v0.7h-0.7zM284.4 99.5h0.7v0.7h-0.7zM264.7 113.9h0.7v0.7h-0.7zM268.1 100.4h0.7v0.7h-0.7zM265.2 109.6h0.7v0.7h-0.7zM276.6 121.4h0.7v0.7h-0.7zM267.8 100.2h0.7v0.7h-0.7zM281.7 99.2h0.7v0.7h-0.7zM265.3 105.9h0.7v0.7h-0.7zM278.0 122.9h0.7v0.7h-0.7zM267.3 119.6h0.7v0.7h-0.7zM273.9 95.8h0.7v0.7h-0.7zM283.5 98.4h0.7v0.7h-0.7zM268.0 120.3h0.7v0.7h-0.7zM268.8 119.6h0.7v0.7h-0.7zM280.9 96.9h0.7v0.7h-0.7zM276.6 97.5h0.7v0.7h-0.7zM286.2 108.8h0.7v0.7h-0.7zM263.6 110.0h0.7v0.7h-0.7zM281.1 118.8h0.7v0.7h-0.7zM279.3 120.2h0.7v0.7h-0.7zM279.8 98.3h0.7v0.7h-0.7zM278.7 96.5h0.7v0.7h-0.7zM267.3 120.2h0.7v0.7h-0.7zM283.9 114.5h0.7v0.7h-0.7zM265.1 107.1h0.7v0.7h-0.7zM264.6 116.9h0.7v0.7h-0.7zM265.9 103.1h0.7v0.7h-0.7zM265.2 110.6h0.7v0.7h-0.7zM282.1 119.3h0.7v0.7h-0.7zM276.2 94.9h0.7v0.7h-0.7zM272.5 121.7h0.7v0.7h-0.7zM265.8 116.9h0.7v0.7h-0.7zM284.8 115.6h0.7v0.7h-0.7zM276.6 97.5h0.7v0.7h-0.7zM275.4 96.8h0.7v0.7h-0.7zM265.4 112.4h0.7v0.7h-0.7zM273.8 96.4h0.7v0.7h-0.7zM284.3 113.0h0.7v0.7h-0.7zM276.6 97.4h0.7v0.7h-0.7zM264.1 109.8h0.7v0.7h-0.7zM277.8 121.5h0.7v0.7h-0.7zM265.7 113.2h0.7v0.7h-0.7zM279.8 98.5h0.7v0.7h-0.7zM282.1 99.4h0.7v0.7h-0.7zM267.1 117.3h0.7v0.7h-0.7zM284.6 99.6h0.7v0.7h-0.7zM276.6 122.3h0.7v0.7h-0.7zM284.2 114.7h0.7v0.7h-0.7zM274.5 122.6h0.7v0.7h-0.7zM275.6 122.5h0.7v0.7h-0.7zM285.3 108.4h0.7v0.7h-0.7zM280.8 120.9h0.7v0.7h-0.7zM284.5 115.9h0.7v0.7h-0.7zM284.1 103.5h0.7v0.7h-0.7zM264.1 105.5h0.7v0.7h-0.7zM279.3 121.8h0.7v0.7h-0.7zM273.0 98.2h0.7v0.7h-0.7zM278.0 122.7h0.7v0.7h-0.7zM283.3 116.2h0.7v0.7h-0.7zM284.2 113.9h0.7v0.7h-0.7zM274.9 123.1h0.7v0.7h-0.7zM282.2 116.7h0.7v0.7h-0.7zM266.6 104.2h0.7v0.7h-0.7z" fill="#2a78ff"/>
<clipPath id="c1"><path d="M275.70 96.40 C277.26 96.29 279.99 98.21 281.20 99.20 C282.41 100.19 284.29 102.49 284.80 103.80 C285.31 105.11 285.13 107.57 285.00 109.00 C284.87 110.43 284.69 112.79 283.80 114.50 C282.91 116.21 279.81 121.12 278.30 121.80 C276.79 122.48 273.86 120.36 272.50 119.60 C271.14 118.84 268.89 117.25 268.10 116.10 C267.31 114.95 266.88 112.41 266.60 111.00 C266.32 109.59 265.61 106.97 266.00 105.50 C266.39 104.03 268.21 101.21 269.50 100.00 C270.79 98.79 274.14 96.51 275.70 96.40Z"/></clipPath>
<g filter="url(#rough)"><g clip-path="url(#c1)">
<path d="M275.70 96.40 C277.26 96.29 279.99 98.21 281.20 99.20 C282.41 100.19 284.29 102.49 284.80 103.80 C285.31 105.11 285.13 107.57 285.00 109.00 C284.87 110.43 284.69 112.79 283.80 114.50 C282.91 116.21 279.81 121.12 278.30 121.80 C276.79 122.48 273.86 120.36 272.50 119.60 C271.14 118.84 268.89 117.25 268.10 116.10 C267.31 114.95 266.88 112.41 266.60 111.00 C266.32 109.59 265.61 106.97 266.00 105.50 C266.39 104.03 268.21 101.21 269.50 100.00 C270.79 98.79 274.14 96.51 275.70 96.40Z" fill="#00f0a8"/>
<path d="M275.70 96.40 C277.26 96.29 279.99 98.21 281.20 99.20 C282.41 100.19 284.29 102.49 284.80 103.80 C285.31 105.11 285.13 107.57 285.00 109.00 C284.87 110.43 284.69 112.79 283.80 114.50 C282.91 116.21 279.81 121.12 278.30 121.80 C276.79 122.48 273.86 120.36 272.50 119.60 C271.14 118.84 268.89 117.25 268.10 116.10 C267.31 114.95 266.88 112.41 266.60 111.00 C266.32 109.59 265.61 106.97 266.00 105.50 C266.39 104.03 268.21 101.21 269.50 100.00 C270.79 98.79 274.14 96.51 275.70 96.40Z" fill="none" stroke="#00ccff" stroke-width="6.80" stroke-linejoin="round"/>
<path d="M275.70 96.40 C277.26 96.29 279.99 98.21 281.20 99.20 C282.41 100.19 284.29 102.49 284.80 103.80 C285.31 105.11 285.13 107.57 285.00 109.00 C284.87 110.43 284.69 112.79 283.80 114.50 C282.91 116.21 279.81 121.12 278.30 121.80 C276.79 122.48 273.86 120.36 272.50 119.60 C271.14 118.84 268.89 117.25 268.10 116.10 C267.31 114.95 266.88 112.41 266.60 111.00 C266.32 109.59 265.61 106.97 266.00 105.50 C266.39 104.03 268.21 101.21 269.50 100.00 C270.79 98.79 274.14 96.51 275.70 96.40Z" fill="none" stroke="#1840ff" stroke-width="4.00" stroke-linejoin="round"/>
</g></g>
<ellipse cx="274.90" cy="110.20" rx="5.40" ry="7.00" transform="rotate(12.0 274.90 110.20)" fill="#00f070"/>
<ellipse cx="274.70" cy="110.60" rx="3.40" ry="4.60" transform="rotate(12.0 274.70 110.60)" fill="#1cf040"/>
<path d="M319.7 54.7h0.7v0.7h-0.7zM335.0 80.5h0.7v0.7h-0.7zM315.2 55.7h0.7v0.7h-0.7zM329.8 84.2h0.7v0.7h-0.7zM322.2 55.0h0.7v0.7h-0.7zM312.5 78.2h0.7v0.7h-0.7zM340.0 76.7h0.7v0.7h-0.7zM320.6 85.1h0.7v0.7h-0.7zM309.0 66.2h0.7v0.7h-0.7zM313.2 58.2h0.7v0.7h-0.7zM342.3 72.4h0.7v0.7h-0.7zM308.1 65.8h0.7v0.7h-0.7zM337.7 65.6h0.7v0.7h-0.7zM332.4 57.6h0.7v0.7h-0.7zM313.1 58.1h0.7v0.7h-0.7zM336.1 55.3h0.7v0.7h-0.7zM313.5 57.0h0.7v0.7h-0.7zM311.0 70.7h0.7v0.7h-0.7zM334.1 84.0h0.7v0.7h-0.7zM325.0 54.8h0.7v0.7h-0.7zM319.7 57.9h0.7v0.7h-0.7zM341.1 67.7h0.7v0.7h-0.7zM333.5 55.1h0.7v0.7h-0.7zM328.4 55.4h0.7v0.7h-0.7zM337.6 80.6h0.7v0.7h-0.7zM318.0 84.0h0.7v0.7h-0.7zM340.4 69.8h0.7v0.7h-0.7zM328.4 56.7h0.7v0.7h-0.7zM312.9 62.1h0.7v0.7h-0.7zM326.2 85.9h0.7v0.7h-0.7zM340.6 63.9h0.7v0.7h-0.7zM307.8 68.5h0.7v0.7h-0.7zM311.7 70.2h0.7v0.7h-0.7zM337.2 83.2h0.7v0.7h-0.7zM311.5 73.5h0.7v0.7h-0.7zM339.9 67.5h0.7v0.7h-0.7zM328.6 55.9h0.7v0.7h-0.7zM325.1 54.3h0.7v0.7h-0.7zM342.3 74.4h0.7v0.7h-0.7zM321.4 85.6h0.7v0.7h-0.7zM321.2 52.1h0.7v0.7h-0.7zM309.4 76.1h0.7v0.7h-0.7zM308.6 72.0h0.7v0.7h-0.7zM335.7 86.4h0.7v0.7h-0.7zM336.0 83.8h0.7v0.7h-0.7zM338.0 76.0h0.7v0.7h-0.7zM337.7 58.1h0.7v0.7h-0.7zM337.6 78.9h0.7v0.7h-0.7zM342.3 78.4h0.7v0.7h-0.7zM335.5 56.0h0.7v0.7h-0.7zM320.1 54.4h0.7v0.7h-0.7zM338.7 73.3h0.7v0.7h-0.7zM320.3 86.1h0.7v0.7h-0.7zM333.0 56.7h0.7v0.7h-0.7zM325.6 87.3h0.7v0.7h-0.7zM340.7 65.8h0.7v0.7h-0.7zM311.8 64.9h0.7v0.7h-0.7zM325.8 56.5h0.7v0.7h-0.7zM318.5 57.9h0.7v0.7h-0.7zM318.3 56.2h0.7v0.7h-0.7zM332.9 55.9h0.7v0.7h-0.7zM338.6 61.8h0.7v0.7h-0.7zM344.2 72.3h0.7v0.7h-0.7zM327.6 52.7h0.7v0.7h-0.7zM332.0 58.3h0.7v0.7h-0.7zM335.1 60.8h0.7v0.7h-0.7zM320.4 83.6h0.7v0.7h-0.7zM311.4 72.0h0.7v0.7h-0.7zM329.5 86.5h0.7v0.7h-0.7zM333.9 84.0h0.7v0.7h-0.7zM320.9 58.1h0.7v0.7h-0.7zM338.6 58.9h0.7v0.7h-0.7zM325.7 53.2h0.7v0.7h-0.7zM339.0 67.1h0.7v0.7h-0.7zM340.6 79.1h0.7v0.7h-0.7zM342.2 72.4h0.7v0.7h-0.7zM312.3 57.6h0.7v0.7h-0.7zM337.9 79.2h0.7v0.7h-0.7zM326.4 55.4h0.7v0.7h-0.7zM321.9 84.2h0.7v0.7h-0.7zM341.6 72.5h0.7v0.7h-0.7zM340.1 76.7h0.7v0.7h-0.7zM323.9 55.0h0.7v0.7h-0.7zM311.0 58.8h0.7v0.7h-0.7zM332.7 85.7h0.7v0.7h-0.7zM317.7 56.4h0.7v0.7h-0.7zM317.9 82.3h0.7v0.7h-0.7zM313.8 81.9h0.7v0.7h-0.7zM340.0 68.0h0.7v0.7h-0.7zM336.7 56.8h0.7v0.7h-0.7zM314.5 82.7h0.7v0.7h-0.7zM344.0 73.6h0.7v0.7h-0.7zM311.5 71.2h0.7v0.7h-0.7zM330.4 53.0h0.7v0.7h-0.7zM323.9 51.8h0.7v0.7h-0.7zM322.7 86.6h0.7v0.7h-0.7zM309.9 76.7h0.7v0.7h-0.7zM322.3 87.3h0.7v0.7h-0.7zM310.5 73.6h0.7v0.7h-0.7zM320.9 56.6h0.7v0.7h-0.7zM316.3 87.0h0.7v0.7h-0.7zM313.9 80.2h0.7v0.7h-0.7zM343.6 66.4h0.7v0.7h-0.7zM337.5 63.9h0.7v0.7h-0.7zM330.3 57.0h0.7v0.7h-0.7zM314.8 56.0h0.7v0.7h-0.7zM325.2 57.0h0.7v0.7h-0.7zM313.8 62.6h0.7v0.7h-0.7zM332.3 57.8h0.7v0.7h-0.7zM329.7 85.1h0.7v0.7h-0.7zM308.1 64.7h0.7v0.7h-0.7zM333.3 86.7h0.7v0.7h-0.7zM308.9 79.5h0.7v0.7h-0.7zM316.1 59.6h0.7v0.7h-0.7zM308.1 69.6h0.7v0.7h-0.7zM333.2 56.7h0.7v0.7h-0.7zM313.0 82.6h0.7v0.7h-0.7zM339.3 80.8h0.7v0.7h-0.7zM311.9 80.9h0.7v0.7h-0.7zM337.9 78.1h0.7v0.7h-0.7zM322.0 85.0h0.7v0.7h-0.7zM343.2 66.8h0.7v0.7h-0.7zM339.6 79.0h0.7v0.7h-0.7zM342.5 65.1h0.7v0.7h-0.7zM342.1 75.9h0.7v0.7h-0.7zM329.0 52.5h0.7v0.7h-0.7zM311.9 62.8h0.7v0.7h-0.7zM332.2 85.6h0.7v0.7h-0.7zM322.7 85.0h0.7v0.7h-0.7zM312.2 67.9h0.7v0.7h-0.7z" fill="#2a78ff"/>
<clipPath id="c2"><path d="M321.40 53.00 C322.73 52.21 325.13 53.88 327.00 55.50 C328.87 57.12 342.88 70.54 343.80 72.50 C344.72 74.46 339.40 77.78 338.00 79.00 C336.60 80.22 328.33 86.78 327.00 87.20 C325.67 87.62 323.60 85.27 322.00 84.00 C320.40 82.73 308.72 73.58 307.80 72.00 C306.88 70.42 309.87 66.58 311.00 65.00 C312.13 63.42 320.07 53.79 321.40 53.00Z"/></clipPath>
<g filter="url(#rough)"><g clip-path="url(#c2)">
<path d="M321.40 53.00 C322.73 52.21 325.13 53.88 327.00 55.50 C328.87 57.12 342.88 70.54 343.80 72.50 C344.72 74.46 339.40 77.78 338.00 79.00 C336.60 80.22 328.33 86.78 327.00 87.20 C325.67 87.62 323.60 85.27 322.00 84.00 C320.40 82.73 308.72 73.58 307.80 72.00 C306.88 70.42 309.87 66.58 311.00 65.00 C312.13 63.42 320.07 53.79 321.40 53.00Z" fill="#14f03c"/>
<path d="M321.40 53.00 C322.73 52.21 325.13 53.88 327.00 55.50 C328.87 57.12 342.88 70.54 343.80 72.50 C344.72 74.46 339.40 77.78 338.00 79.00 C336.60 80.22 328.33 86.78 327.00 87.20 C325.67 87.62 323.60 85.27 322.00 84.00 C320.40 82.73 308.72 73.58 307.80 72.00 C306.88 70.42 309.87 66.58 311.00 65.00 C312.13 63.42 320.07 53.79 321.40 53.00Z" fill="none" stroke="#00ccff" stroke-width="10.00" stroke-linejoin="round"/>
<path d="M321.40 53.00 C322.73 52.21 325.13 53.88 327.00 55.50 C328.87 57.12 342.88 70.54 343.80 72.50 C344.72 74.46 339.40 77.78 338.00 79.00 C336.60 80.22 328.33 86.78 327.00 87.20 C325.67 87.62 323.60 85.27 322.00 84.00 C320.40 82.73 308.72 73.58 307.80 72.00 C306.88 70.42 309.87 66.58 311.00 65.00 C312.13 63.42 320.07 53.79 321.40 53.00Z" fill="none" stroke="#2a78ff" stroke-width="6.80" stroke-linejoin="round"/>
<path d="M321.40 53.00 C322.73 52.21 325.13 53.88 327.00 55.50 C328.87 57.12 342.88 70.54 343.80 72.50 C344.72 74.46 339.40 77.78 338.00 79.00 C336.60 80.22 328.33 86.78 327.00 87.20 C325.67 87.62 323.60 85.27 322.00 84.00 C320.40 82.73 308.72 73.58 307.80 72.00 C306.88 70.42 309.87 66.58 311.00 65.00 C312.13 63.42 320.07 53.79 321.40 53.00Z" fill="none" stroke="#1840ff" stroke-width="5.20" stroke-linejoin="round"/>
</g></g>
<ellipse cx="324.70" cy="67.30" rx="8.00" ry="2.90" transform="rotate(36.0 324.70 67.30)" fill="#ffe800"/>
<path d="M318.60 63.40 C318.94 62.95 323.60 65.26 325.00 66.00 C326.40 66.74 332.24 70.04 332.60 70.80 C332.96 71.56 329.50 72.98 328.60 73.60 C327.70 74.22 324.30 77.31 323.60 77.00 C322.90 76.69 322.10 71.86 321.60 70.50 C321.10 69.14 318.26 63.85 318.60 63.40Z" fill="#ffe800" />
<path d="M322.20 68.60 C322.77 68.37 326.95 69.92 327.30 70.80 C327.65 71.68 325.37 74.97 324.80 75.20 C324.23 75.43 323.35 73.38 323.00 72.50 C322.65 71.62 321.63 68.83 322.20 68.60Z" fill="#ff9000" />
<ellipse cx="324.70" cy="67.20" rx="7.00" ry="1.85" transform="rotate(36.0 324.70 67.20)" fill="#e8100a"/>
<path d="M322.5 109.4h0.7v0.7h-0.7zM318.5 96.1h0.7v0.7h-0.7zM318.3 96.7h0.7v0.7h-0.7zM325.7 93.5h0.7v0.7h-0.7zM321.7 88.6h0.7v0.7h-0.7zM321.1 90.5h0.7v0.7h-0.7zM327.1 96.6h0.7v0.7h-0.7zM323.9 89.7h0.7v0.7h-0.7zM328.5 102.1h0.7v0.7h-0.7zM321.3 107.0h0.7v0.7h-0.7zM319.4 92.6h0.7v0.7h-0.7zM321.2 90.6h0.7v0.7h-0.7zM329.2 103.2h0.7v0.7h-0.7zM321.9 91.4h0.7v0.7h-0.7zM319.1 103.1h0.7v0.7h-0.7zM327.3 94.1h0.7v0.7h-0.7zM323.2 111.6h0.7v0.7h-0.7zM322.6 110.7h0.7v0.7h-0.7zM326.5 108.6h0.7v0.7h-0.7zM328.3 109.0h0.7v0.7h-0.7zM326.5 108.9h0.7v0.7h-0.7zM326.8 111.1h0.7v0.7h-0.7zM319.1 100.7h0.7v0.7h-0.7zM327.3 93.0h0.7v0.7h-0.7zM323.1 109.6h0.7v0.7h-0.7zM327.8 105.1h0.7v0.7h-0.7zM320.9 88.9h0.7v0.7h-0.7zM320.6 91.7h0.7v0.7h-0.7zM325.2 92.1h0.7v0.7h-0.7zM325.0 111.3h0.7v0.7h-0.7zM325.4 111.7h0.7v0.7h-0.7zM322.5 111.1h0.7v0.7h-0.7zM325.5 91.2h0.7v0.7h-0.7zM326.3 92.0h0.7v0.7h-0.7zM322.2 108.6h0.7v0.7h-0.7zM323.2 91.2h0.7v0.7h-0.7zM321.5 89.7h0.7v0.7h-0.7zM328.3 101.7h0.7v0.7h-0.7zM319.1 101.0h0.7v0.7h-0.7zM320.0 90.1h0.7v0.7h-0.7zM329.0 97.3h0.7v0.7h-0.7zM318.7 93.0h0.7v0.7h-0.7zM321.3 91.6h0.7v0.7h-0.7zM329.4 105.5h0.7v0.7h-0.7zM324.7 90.9h0.7v0.7h-0.7zM325.5 108.9h0.7v0.7h-0.7zM322.6 90.4h0.7v0.7h-0.7zM319.0 94.1h0.7v0.7h-0.7zM319.6 104.6h0.7v0.7h-0.7zM323.6 110.9h0.7v0.7h-0.7zM319.1 99.4h0.7v0.7h-0.7zM322.0 88.5h0.7v0.7h-0.7zM318.0 98.5h0.7v0.7h-0.7zM320.2 90.4h0.7v0.7h-0.7zM324.0 110.2h0.7v0.7h-0.7zM321.9 108.6h0.7v0.7h-0.7zM319.9 104.9h0.7v0.7h-0.7zM328.3 104.0h0.7v0.7h-0.7zM319.8 92.2h0.7v0.7h-0.7zM322.1 88.2h0.7v0.7h-0.7z" fill="#2a78ff"/>
<ellipse cx="323.60" cy="100.20" rx="3.60" ry="8.20" transform="rotate(-8.0 323.60 100.20)" fill="#1840ff" filter="url(#rough)"/>
<ellipse cx="323.40" cy="99.80" rx="1.90" ry="5.40" transform="rotate(-8.0 323.40 99.80)" fill="#2a78ff" filter="url(#rough2)"/>
<path d="M379.4 89.8h0.7v0.7h-0.7zM376.7 93.6h0.7v0.7h-0.7zM383.0 74.9h0.7v0.7h-0.7zM384.0 73.4h0.7v0.7h-0.7zM381.4 87.4h0.7v0.7h-0.7zM372.4 55.0h0.7v0.7h-0.7zM367.7 92.1h0.7v0.7h-0.7zM380.8 90.3h0.7v0.7h-0.7zM362.9 64.8h0.7v0.7h-0.7zM372.8 94.2h0.7v0.7h-0.7zM367.1 88.7h0.7v0.7h-0.7zM366.7 58.7h0.7v0.7h-0.7zM362.1 75.7h0.7v0.7h-0.7zM364.3 65.3h0.7v0.7h-0.7zM371.4 93.7h0.7v0.7h-0.7zM378.8 93.5h0.7v0.7h-0.7zM366.4 58.1h0.7v0.7h-0.7zM382.9 76.4h0.7v0.7h-0.7zM375.1 94.7h0.7v0.7h-0.7zM383.9 84.2h0.7v0.7h-0.7zM383.9 78.2h0.7v0.7h-0.7zM372.1 56.1h0.7v0.7h-0.7zM365.7 89.7h0.7v0.7h-0.7zM371.7 93.1h0.7v0.7h-0.7zM363.2 70.7h0.7v0.7h-0.7zM383.8 84.9h0.7v0.7h-0.7zM363.3 79.3h0.7v0.7h-0.7zM367.9 56.3h0.7v0.7h-0.7zM382.8 84.2h0.7v0.7h-0.7zM369.1 93.9h0.7v0.7h-0.7zM378.8 91.7h0.7v0.7h-0.7zM383.2 84.3h0.7v0.7h-0.7zM377.6 94.2h0.7v0.7h-0.7zM375.1 95.7h0.7v0.7h-0.7zM368.6 55.7h0.7v0.7h-0.7zM364.8 84.1h0.7v0.7h-0.7zM382.6 67.9h0.7v0.7h-0.7zM381.0 64.3h0.7v0.7h-0.7zM372.7 56.5h0.7v0.7h-0.7zM368.2 92.5h0.7v0.7h-0.7zM375.0 93.1h0.7v0.7h-0.7zM364.2 81.3h0.7v0.7h-0.7zM384.1 77.5h0.7v0.7h-0.7zM363.1 76.7h0.7v0.7h-0.7zM364.2 63.4h0.7v0.7h-0.7zM373.7 93.9h0.7v0.7h-0.7zM373.2 57.3h0.7v0.7h-0.7zM384.0 83.5h0.7v0.7h-0.7zM372.6 94.6h0.7v0.7h-0.7zM363.2 84.3h0.7v0.7h-0.7zM380.9 88.4h0.7v0.7h-0.7zM362.5 75.2h0.7v0.7h-0.7zM361.6 72.2h0.7v0.7h-0.7zM366.7 59.1h0.7v0.7h-0.7zM373.3 57.0h0.7v0.7h-0.7z" fill="#2a78ff"/>
<clipPath id="c3"><path d="M363.10 65.30 C363.30 63.70 363.62 62.00 365.00 60.70 C366.38 59.40 369.28 57.72 371.40 57.50 C373.52 57.28 375.80 58.02 377.70 59.40 C379.60 60.78 381.95 63.88 382.80 65.80 C383.65 67.72 383.18 69.37 382.80 70.90 C382.42 72.43 381.02 73.62 380.50 75.00 C379.98 76.38 379.62 77.65 379.70 79.20 C379.78 80.75 380.90 82.60 381.00 84.30 C381.10 86.00 381.05 87.82 380.30 89.40 C379.55 90.98 377.98 93.58 376.50 93.80 C375.02 94.02 372.98 92.07 371.40 90.70 C369.82 89.33 368.07 87.30 367.00 85.60 C365.93 83.90 365.22 82.20 365.00 80.50 C364.78 78.80 365.90 77.10 365.70 75.40 C365.50 73.70 364.23 71.98 363.80 70.30 C363.37 68.62 362.90 66.90 363.10 65.30Z"/></clipPath>
<g filter="url(#rough2)"><g clip-path="url(#c3)">
<path d="M363.10 65.30 C363.30 63.70 363.62 62.00 365.00 60.70 C366.38 59.40 369.28 57.72 371.40 57.50 C373.52 57.28 375.80 58.02 377.70 59.40 C379.60 60.78 381.95 63.88 382.80 65.80 C383.65 67.72 383.18 69.37 382.80 70.90 C382.42 72.43 381.02 73.62 380.50 75.00 C379.98 76.38 379.62 77.65 379.70 79.20 C379.78 80.75 380.90 82.60 381.00 84.30 C381.10 86.00 381.05 87.82 380.30 89.40 C379.55 90.98 377.98 93.58 376.50 93.80 C375.02 94.02 372.98 92.07 371.40 90.70 C369.82 89.33 368.07 87.30 367.00 85.60 C365.93 83.90 365.22 82.20 365.00 80.50 C364.78 78.80 365.90 77.10 365.70 75.40 C365.50 73.70 364.23 71.98 363.80 70.30 C363.37 68.62 362.90 66.90 363.10 65.30Z" fill="#14f03c"/>
<path d="M363.10 65.30 C363.30 63.70 363.62 62.00 365.00 60.70 C366.38 59.40 369.28 57.72 371.40 57.50 C373.52 57.28 375.80 58.02 377.70 59.40 C379.60 60.78 381.95 63.88 382.80 65.80 C383.65 67.72 383.18 69.37 382.80 70.90 C382.42 72.43 381.02 73.62 380.50 75.00 C379.98 76.38 379.62 77.65 379.70 79.20 C379.78 80.75 380.90 82.60 381.00 84.30 C381.10 86.00 381.05 87.82 380.30 89.40 C379.55 90.98 377.98 93.58 376.50 93.80 C375.02 94.02 372.98 92.07 371.40 90.70 C369.82 89.33 368.07 87.30 367.00 85.60 C365.93 83.90 365.22 82.20 365.00 80.50 C364.78 78.80 365.90 77.10 365.70 75.40 C365.50 73.70 364.23 71.98 363.80 70.30 C363.37 68.62 362.90 66.90 363.10 65.30Z" fill="none" stroke="#00ccff" stroke-width="5.00" stroke-linejoin="round"/>
<path d="M363.10 65.30 C363.30 63.70 363.62 62.00 365.00 60.70 C366.38 59.40 369.28 57.72 371.40 57.50 C373.52 57.28 375.80 58.02 377.70 59.40 C379.60 60.78 381.95 63.88 382.80 65.80 C383.65 67.72 383.18 69.37 382.80 70.90 C382.42 72.43 381.02 73.62 380.50 75.00 C379.98 76.38 379.62 77.65 379.70 79.20 C379.78 80.75 380.90 82.60 381.00 84.30 C381.10 86.00 381.05 87.82 380.30 89.40 C379.55 90.98 377.98 93.58 376.50 93.80 C375.02 94.02 372.98 92.07 371.40 90.70 C369.82 89.33 368.07 87.30 367.00 85.60 C365.93 83.90 365.22 82.20 365.00 80.50 C364.78 78.80 365.90 77.10 365.70 75.40 C365.50 73.70 364.23 71.98 363.80 70.30 C363.37 68.62 362.90 66.90 363.10 65.30Z" fill="none" stroke="#1840ff" stroke-width="2.40" stroke-linejoin="round"/>
</g></g>
<ellipse cx="373.00" cy="67.00" rx="8.20" ry="4.20" transform="rotate(38.0 373.00 67.00)" fill="#ffe800"/>
<ellipse cx="372.60" cy="83.80" rx="7.70" ry="4.00" transform="rotate(38.0 372.60 83.80)" fill="#ffe800"/>
<path d="M366.93 62.17 C367.23 61.77 368.93 62.31 369.98 62.65 C371.03 62.98 372.10 63.59 373.23 64.17 C374.36 64.76 375.84 65.43 376.75 66.16 C377.66 66.89 378.40 67.73 378.68 68.56 C378.96 69.39 378.88 70.58 378.43 71.16 C377.98 71.73 376.85 72.10 375.97 72.03 C375.10 71.96 374.11 71.44 373.18 70.73 C372.25 70.03 371.24 68.75 370.40 67.80 C369.55 66.84 368.71 65.95 368.13 65.01 C367.55 64.07 366.62 62.56 366.93 62.17Z" fill="#e8100a" />
<path d="M366.94 79.31 C367.27 78.89 369.14 79.48 370.13 79.78 C371.13 80.07 371.90 80.50 372.93 81.07 C373.96 81.65 375.49 82.50 376.33 83.22 C377.16 83.94 377.71 84.62 377.94 85.37 C378.18 86.13 378.15 87.22 377.74 87.75 C377.33 88.27 376.27 88.57 375.48 88.52 C374.69 88.48 373.90 88.11 373.00 87.47 C372.10 86.84 370.90 85.56 370.10 84.70 C369.29 83.83 368.69 83.20 368.16 82.30 C367.64 81.40 366.61 79.73 366.94 79.31Z" fill="#e8100a" />
<path d="M411.5 79.9h0.7v0.7h-0.7zM432.3 85.9h0.7v0.7h-0.7zM423.9 58.5h0.7v0.7h-0.7zM413.6 64.1h0.7v0.7h-0.7zM411.6 72.3h0.7v0.7h-0.7zM411.2 78.1h0.7v0.7h-0.7zM431.4 72.3h0.7v0.7h-0.7zM426.1 96.6h0.7v0.7h-0.7zM410.2 72.1h0.7v0.7h-0.7zM417.3 97.4h0.7v0.7h-0.7zM424.1 100.1h0.7v0.7h-0.7zM418.1 56.1h0.7v0.7h-0.7zM430.4 71.3h0.7v0.7h-0.7zM416.9 59.5h0.7v0.7h-0.7zM412.7 65.7h0.7v0.7h-0.7zM411.9 83.8h0.7v0.7h-0.7zM432.1 85.5h0.7v0.7h-0.7zM414.7 58.8h0.7v0.7h-0.7zM417.5 59.2h0.7v0.7h-0.7zM412.6 64.6h0.7v0.7h-0.7zM421.0 96.9h0.7v0.7h-0.7zM432.5 85.3h0.7v0.7h-0.7zM419.5 96.8h0.7v0.7h-0.7zM421.3 56.7h0.7v0.7h-0.7zM424.4 99.3h0.7v0.7h-0.7zM415.6 59.6h0.7v0.7h-0.7zM410.2 70.8h0.7v0.7h-0.7zM410.9 66.1h0.7v0.7h-0.7zM412.5 64.8h0.7v0.7h-0.7zM423.0 98.7h0.7v0.7h-0.7zM425.0 61.4h0.7v0.7h-0.7zM425.7 99.7h0.7v0.7h-0.7zM411.6 86.7h0.7v0.7h-0.7zM416.0 95.2h0.7v0.7h-0.7zM416.7 59.8h0.7v0.7h-0.7zM431.1 87.0h0.7v0.7h-0.7zM410.4 79.8h0.7v0.7h-0.7zM426.2 96.8h0.7v0.7h-0.7zM421.7 59.3h0.7v0.7h-0.7zM412.8 61.5h0.7v0.7h-0.7zM415.1 59.5h0.7v0.7h-0.7zM431.9 84.6h0.7v0.7h-0.7zM423.3 100.1h0.7v0.7h-0.7zM425.3 97.2h0.7v0.7h-0.7zM417.4 97.1h0.7v0.7h-0.7zM414.1 91.6h0.7v0.7h-0.7zM419.1 96.6h0.7v0.7h-0.7zM425.6 58.2h0.7v0.7h-0.7zM429.7 67.6h0.7v0.7h-0.7zM429.8 91.4h0.7v0.7h-0.7zM428.9 97.0h0.7v0.7h-0.7zM428.9 66.5h0.7v0.7h-0.7zM417.6 58.5h0.7v0.7h-0.7zM411.3 77.8h0.7v0.7h-0.7zM431.3 85.7h0.7v0.7h-0.7z" fill="#2a78ff"/>
<clipPath id="c4"><path d="M420.60 58.80 C422.40 58.80 424.62 59.65 426.30 60.70 C427.98 61.75 430.07 63.52 430.70 65.10 C431.33 66.68 430.62 68.78 430.10 70.20 C429.58 71.62 428.23 72.47 427.60 73.60 C426.97 74.73 426.20 75.63 426.30 77.00 C426.40 78.37 427.57 80.15 428.20 81.80 C428.83 83.45 429.88 85.37 430.10 86.90 C430.32 88.43 430.03 89.73 429.50 91.00 C428.97 92.27 427.97 93.33 426.90 94.50 C425.83 95.67 424.15 97.95 423.10 98.00 C422.05 98.05 421.55 96.08 420.60 94.80 C419.65 93.52 418.35 91.88 417.40 90.30 C416.45 88.72 415.12 87.15 414.90 85.30 C414.68 83.45 416.00 81.08 416.10 79.20 C416.20 77.32 416.10 75.60 415.50 74.00 C414.90 72.40 413.03 71.08 412.50 69.60 C411.97 68.12 411.80 66.58 412.30 65.10 C412.80 63.62 414.12 61.75 415.50 60.70 C416.88 59.65 418.80 58.80 420.60 58.80Z"/></clipPath>
<g filter="url(#rough2)"><g clip-path="url(#c4)">
<path d="M420.60 58.80 C422.40 58.80 424.62 59.65 426.30 60.70 C427.98 61.75 430.07 63.52 430.70 65.10 C431.33 66.68 430.62 68.78 430.10 70.20 C429.58 71.62 428.23 72.47 427.60 73.60 C426.97 74.73 426.20 75.63 426.30 77.00 C426.40 78.37 427.57 80.15 428.20 81.80 C428.83 83.45 429.88 85.37 430.10 86.90 C430.32 88.43 430.03 89.73 429.50 91.00 C428.97 92.27 427.97 93.33 426.90 94.50 C425.83 95.67 424.15 97.95 423.10 98.00 C422.05 98.05 421.55 96.08 420.60 94.80 C419.65 93.52 418.35 91.88 417.40 90.30 C416.45 88.72 415.12 87.15 414.90 85.30 C414.68 83.45 416.00 81.08 416.10 79.20 C416.20 77.32 416.10 75.60 415.50 74.00 C414.90 72.40 413.03 71.08 412.50 69.60 C411.97 68.12 411.80 66.58 412.30 65.10 C412.80 63.62 414.12 61.75 415.50 60.70 C416.88 59.65 418.80 58.80 420.60 58.80Z" fill="#14f03c"/>
<path d="M420.60 58.80 C422.40 58.80 424.62 59.65 426.30 60.70 C427.98 61.75 430.07 63.52 430.70 65.10 C431.33 66.68 430.62 68.78 430.10 70.20 C429.58 71.62 428.23 72.47 427.60 73.60 C426.97 74.73 426.20 75.63 426.30 77.00 C426.40 78.37 427.57 80.15 428.20 81.80 C428.83 83.45 429.88 85.37 430.10 86.90 C430.32 88.43 430.03 89.73 429.50 91.00 C428.97 92.27 427.97 93.33 426.90 94.50 C425.83 95.67 424.15 97.95 423.10 98.00 C422.05 98.05 421.55 96.08 420.60 94.80 C419.65 93.52 418.35 91.88 417.40 90.30 C416.45 88.72 415.12 87.15 414.90 85.30 C414.68 83.45 416.00 81.08 416.10 79.20 C416.20 77.32 416.10 75.60 415.50 74.00 C414.90 72.40 413.03 71.08 412.50 69.60 C411.97 68.12 411.80 66.58 412.30 65.10 C412.80 63.62 414.12 61.75 415.50 60.70 C416.88 59.65 418.80 58.80 420.60 58.80Z" fill="none" stroke="#00ccff" stroke-width="5.00" stroke-linejoin="round"/>
<path d="M420.60 58.80 C422.40 58.80 424.62 59.65 426.30 60.70 C427.98 61.75 430.07 63.52 430.70 65.10 C431.33 66.68 430.62 68.78 430.10 70.20 C429.58 71.62 428.23 72.47 427.60 73.60 C426.97 74.73 426.20 75.63 426.30 77.00 C426.40 78.37 427.57 80.15 428.20 81.80 C428.83 83.45 429.88 85.37 430.10 86.90 C430.32 88.43 430.03 89.73 429.50 91.00 C428.97 92.27 427.97 93.33 426.90 94.50 C425.83 95.67 424.15 97.95 423.10 98.00 C422.05 98.05 421.55 96.08 420.60 94.80 C419.65 93.52 418.35 91.88 417.40 90.30 C416.45 88.72 415.12 87.15 414.90 85.30 C414.68 83.45 416.00 81.08 416.10 79.20 C416.20 77.32 416.10 75.60 415.50 74.00 C414.90 72.40 413.03 71.08 412.50 69.60 C411.97 68.12 411.80 66.58 412.30 65.10 C412.80 63.62 414.12 61.75 415.50 60.70 C416.88 59.65 418.80 58.80 420.60 58.80Z" fill="none" stroke="#1840ff" stroke-width="2.40" stroke-linejoin="round"/>
</g></g>
<ellipse cx="421.00" cy="76.60" rx="3.00" ry="2.60" transform="rotate(0.0 421.00 76.60)" fill="#00f0a8"/>
<ellipse cx="421.50" cy="67.00" rx="7.60" ry="3.70" transform="rotate(36.0 421.50 67.00)" fill="#ffe800"/>
<ellipse cx="422.20" cy="87.00" rx="7.60" ry="4.00" transform="rotate(47.0 422.20 87.00)" fill="#ffe800"/>
<ellipse cx="421.50" cy="67.00" rx="6.80" ry="2.20" transform="rotate(36.0 421.50 67.00)" fill="#e8100a"/>
<ellipse cx="422.20" cy="87.00" rx="7.00" ry="2.70" transform="rotate(47.0 422.20 87.00)" fill="#e8100a"/>
<path d="M430.3 136.3h0.7v0.7h-0.7zM435.8 166.8h0.7v0.7h-0.7zM446.1 150.5h0.7v0.7h-0.7zM442.8 158.4h0.7v0.7h-0.7zM419.2 167.7h0.7v0.7h-0.7zM415.2 157.0h0.7v0.7h-0.7zM444.4 142.9h0.7v0.7h-0.7zM419.6 165.6h0.7v0.7h-0.7zM435.4 137.4h0.7v0.7h-0.7zM438.6 138.5h0.7v0.7h-0.7zM425.0 135.3h0.7v0.7h-0.7zM442.3 160.4h0.7v0.7h-0.7zM437.3 137.0h0.7v0.7h-0.7zM437.5 168.0h0.7v0.7h-0.7zM443.4 154.5h0.7v0.7h-0.7zM414.3 153.9h0.7v0.7h-0.7zM443.3 147.9h0.7v0.7h-0.7zM442.3 143.6h0.7v0.7h-0.7zM438.7 165.4h0.7v0.7h-0.7zM419.8 166.6h0.7v0.7h-0.7zM445.3 158.9h0.7v0.7h-0.7zM413.8 157.4h0.7v0.7h-0.7zM418.0 166.1h0.7v0.7h-0.7zM443.3 140.8h0.7v0.7h-0.7zM423.5 138.5h0.7v0.7h-0.7zM433.9 166.8h0.7v0.7h-0.7zM424.9 135.3h0.7v0.7h-0.7zM443.1 159.7h0.7v0.7h-0.7zM445.7 147.7h0.7v0.7h-0.7zM438.3 166.0h0.7v0.7h-0.7zM444.0 156.8h0.7v0.7h-0.7zM429.0 136.4h0.7v0.7h-0.7zM415.3 151.9h0.7v0.7h-0.7zM421.7 137.5h0.7v0.7h-0.7zM415.2 156.0h0.7v0.7h-0.7zM422.7 136.8h0.7v0.7h-0.7zM417.6 141.8h0.7v0.7h-0.7zM432.6 136.8h0.7v0.7h-0.7zM426.9 136.0h0.7v0.7h-0.7zM418.7 140.9h0.7v0.7h-0.7zM430.1 136.6h0.7v0.7h-0.7zM445.2 150.8h0.7v0.7h-0.7zM434.5 135.0h0.7v0.7h-0.7zM443.8 161.7h0.7v0.7h-0.7zM444.2 158.8h0.7v0.7h-0.7zM421.4 168.1h0.7v0.7h-0.7zM443.8 155.5h0.7v0.7h-0.7zM445.0 157.9h0.7v0.7h-0.7zM413.8 159.9h0.7v0.7h-0.7zM427.4 169.3h0.7v0.7h-0.7zM414.8 151.5h0.7v0.7h-0.7zM445.5 155.1h0.7v0.7h-0.7zM444.2 146.3h0.7v0.7h-0.7zM434.5 136.0h0.7v0.7h-0.7zM439.9 139.1h0.7v0.7h-0.7zM420.8 165.9h0.7v0.7h-0.7zM428.7 169.8h0.7v0.7h-0.7zM441.8 162.4h0.7v0.7h-0.7zM426.5 169.0h0.7v0.7h-0.7zM427.4 134.9h0.7v0.7h-0.7zM443.0 160.8h0.7v0.7h-0.7zM419.5 140.9h0.7v0.7h-0.7zM439.9 138.9h0.7v0.7h-0.7zM443.0 147.0h0.7v0.7h-0.7zM444.0 146.6h0.7v0.7h-0.7zM430.5 137.3h0.7v0.7h-0.7zM430.1 137.3h0.7v0.7h-0.7zM427.2 168.9h0.7v0.7h-0.7zM415.2 152.8h0.7v0.7h-0.7zM413.3 155.2h0.7v0.7h-0.7zM446.1 153.9h0.7v0.7h-0.7zM446.0 156.4h0.7v0.7h-0.7zM442.7 144.4h0.7v0.7h-0.7zM416.9 141.9h0.7v0.7h-0.7zM416.4 142.2h0.7v0.7h-0.7zM429.5 169.5h0.7v0.7h-0.7zM438.4 165.8h0.7v0.7h-0.7zM431.2 134.1h0.7v0.7h-0.7zM438.6 163.6h0.7v0.7h-0.7zM420.7 138.0h0.7v0.7h-0.7zM436.3 135.1h0.7v0.7h-0.7zM421.9 167.2h0.7v0.7h-0.7zM441.8 161.5h0.7v0.7h-0.7zM435.9 169.1h0.7v0.7h-0.7zM416.7 143.4h0.7v0.7h-0.7zM415.1 145.0h0.7v0.7h-0.7zM414.0 147.8h0.7v0.7h-0.7zM445.2 155.9h0.7v0.7h-0.7zM421.7 138.2h0.7v0.7h-0.7zM413.4 158.4h0.7v0.7h-0.7zM435.6 134.9h0.7v0.7h-0.7zM442.4 161.1h0.7v0.7h-0.7zM435.4 166.5h0.7v0.7h-0.7zM413.5 155.0h0.7v0.7h-0.7zM420.2 138.7h0.7v0.7h-0.7zM423.0 166.6h0.7v0.7h-0.7zM442.3 160.6h0.7v0.7h-0.7zM426.7 136.2h0.7v0.7h-0.7zM443.8 147.3h0.7v0.7h-0.7zM443.8 156.4h0.7v0.7h-0.7zM441.9 162.0h0.7v0.7h-0.7zM427.6 169.6h0.7v0.7h-0.7zM439.5 138.7h0.7v0.7h-0.7zM422.9 138.2h0.7v0.7h-0.7zM446.2 153.9h0.7v0.7h-0.7zM422.8 139.1h0.7v0.7h-0.7zM444.0 151.2h0.7v0.7h-0.7zM429.4 135.9h0.7v0.7h-0.7zM433.1 169.9h0.7v0.7h-0.7zM419.3 139.8h0.7v0.7h-0.7zM445.2 155.5h0.7v0.7h-0.7zM437.5 136.1h0.7v0.7h-0.7zM442.0 161.0h0.7v0.7h-0.7zM413.9 146.0h0.7v0.7h-0.7zM442.7 163.6h0.7v0.7h-0.7zM436.6 137.3h0.7v0.7h-0.7zM419.4 139.4h0.7v0.7h-0.7zM446.2 151.5h0.7v0.7h-0.7zM416.8 141.6h0.7v0.7h-0.7zM426.5 135.1h0.7v0.7h-0.7zM437.8 139.2h0.7v0.7h-0.7zM415.2 161.4h0.7v0.7h-0.7zM442.5 158.4h0.7v0.7h-0.7zM418.2 164.9h0.7v0.7h-0.7zM437.5 139.1h0.7v0.7h-0.7zM415.4 163.7h0.7v0.7h-0.7zM414.8 162.2h0.7v0.7h-0.7zM425.6 135.9h0.7v0.7h-0.7zM430.8 167.6h0.7v0.7h-0.7zM433.1 170.3h0.7v0.7h-0.7zM424.0 135.8h0.7v0.7h-0.7zM416.1 163.7h0.7v0.7h-0.7zM428.6 137.1h0.7v0.7h-0.7zM423.1 137.8h0.7v0.7h-0.7zM421.4 136.9h0.7v0.7h-0.7zM414.8 147.2h0.7v0.7h-0.7zM435.0 135.6h0.7v0.7h-0.7zM436.1 166.5h0.7v0.7h-0.7zM437.3 167.5h0.7v0.7h-0.7zM424.8 169.9h0.7v0.7h-0.7zM444.8 148.9h0.7v0.7h-0.7zM445.8 147.2h0.7v0.7h-0.7zM437.3 137.9h0.7v0.7h-0.7zM413.4 148.9h0.7v0.7h-0.7zM443.5 154.3h0.7v0.7h-0.7zM430.8 170.1h0.7v0.7h-0.7zM417.4 140.4h0.7v0.7h-0.7zM441.5 140.0h0.7v0.7h-0.7zM442.3 144.4h0.7v0.7h-0.7zM441.6 161.3h0.7v0.7h-0.7zM426.3 170.0h0.7v0.7h-0.7zM419.9 138.9h0.7v0.7h-0.7zM436.2 137.9h0.7v0.7h-0.7zM442.1 140.5h0.7v0.7h-0.7zM419.6 166.7h0.7v0.7h-0.7zM414.9 163.1h0.7v0.7h-0.7zM415.3 160.1h0.7v0.7h-0.7zM421.3 137.7h0.7v0.7h-0.7zM420.0 141.0h0.7v0.7h-0.7zM415.1 155.6h0.7v0.7h-0.7zM440.6 162.1h0.7v0.7h-0.7zM428.3 134.2h0.7v0.7h-0.7zM445.1 147.8h0.7v0.7h-0.7zM444.8 150.8h0.7v0.7h-0.7zM420.8 137.4h0.7v0.7h-0.7zM413.7 148.6h0.7v0.7h-0.7zM418.4 163.0h0.7v0.7h-0.7zM441.1 140.9h0.7v0.7h-0.7zM412.4 152.5h0.7v0.7h-0.7zM440.0 165.9h0.7v0.7h-0.7z" fill="#1840ff"/>
<path d="M428.5 161.9h0.7v0.7h-0.7zM424.4 163.7h0.7v0.7h-0.7zM425.3 171.2h0.7v0.7h-0.7zM429.0 162.9h0.7v0.7h-0.7zM418.0 164.4h0.7v0.7h-0.7zM417.2 174.7h0.7v0.7h-0.7zM425.2 164.2h0.7v0.7h-0.7zM426.7 167.9h0.7v0.7h-0.7zM422.1 175.1h0.7v0.7h-0.7zM421.7 164.3h0.7v0.7h-0.7zM422.9 173.7h0.7v0.7h-0.7zM420.6 175.7h0.7v0.7h-0.7zM425.3 173.8h0.7v0.7h-0.7zM418.7 167.5h0.7v0.7h-0.7zM429.0 168.3h0.7v0.7h-0.7zM429.2 164.1h0.7v0.7h-0.7zM424.6 172.3h0.7v0.7h-0.7zM423.1 174.3h0.7v0.7h-0.7zM427.5 166.6h0.7v0.7h-0.7zM428.0 166.9h0.7v0.7h-0.7zM423.9 176.5h0.7v0.7h-0.7zM422.1 161.1h0.7v0.7h-0.7zM421.4 177.1h0.7v0.7h-0.7zM428.3 162.5h0.7v0.7h-0.7zM425.8 172.9h0.7v0.7h-0.7zM427.6 167.9h0.7v0.7h-0.7zM417.4 164.0h0.7v0.7h-0.7zM428.8 166.3h0.7v0.7h-0.7zM426.7 168.7h0.7v0.7h-0.7zM419.6 172.6h0.7v0.7h-0.7zM417.3 164.3h0.7v0.7h-0.7zM422.8 159.4h0.7v0.7h-0.7zM424.1 158.7h0.7v0.7h-0.7zM421.7 173.2h0.7v0.7h-0.7zM425.2 161.9h0.7v0.7h-0.7zM425.6 165.7h0.7v0.7h-0.7zM420.2 176.6h0.7v0.7h-0.7zM428.0 166.8h0.7v0.7h-0.7zM423.2 160.6h0.7v0.7h-0.7zM416.3 171.7h0.7v0.7h-0.7zM422.8 176.8h0.7v0.7h-0.7zM423.8 171.8h0.7v0.7h-0.7zM426.4 171.3h0.7v0.7h-0.7zM418.8 166.1h0.7v0.7h-0.7zM419.7 162.0h0.7v0.7h-0.7zM419.3 162.6h0.7v0.7h-0.7zM416.1 172.5h0.7v0.7h-0.7zM420.7 164.4h0.7v0.7h-0.7zM416.9 168.4h0.7v0.7h-0.7zM424.8 163.4h0.7v0.7h-0.7zM425.5 160.3h0.7v0.7h-0.7zM421.3 159.9h0.7v0.7h-0.7zM419.3 173.3h0.7v0.7h-0.7zM424.1 159.0h0.7v0.7h-0.7zM419.7 166.5h0.7v0.7h-0.7zM420.4 174.1h0.7v0.7h-0.7zM417.1 167.0h0.7v0.7h-0.7zM417.5 175.7h0.7v0.7h-0.7zM416.9 168.4h0.7v0.7h-0.7zM426.0 164.8h0.7v0.7h-0.7zM424.6 175.5h0.7v0.7h-0.7zM425.5 172.4h0.7v0.7h-0.7zM419.8 171.5h0.7v0.7h-0.7zM420.9 164.9h0.7v0.7h-0.7zM427.5 169.8h0.7v0.7h-0.7zM426.5 160.7h0.7v0.7h-0.7zM416.7 171.7h0.7v0.7h-0.7zM428.1 160.0h0.7v0.7h-0.7zM419.6 177.0h0.7v0.7h-0.7zM426.6 167.2h0.7v0.7h-0.7z" fill="#1840ff"/>
<clipPath id="c5"><path d="M428.80 136.10 C430.68 135.98 433.90 136.34 436.00 137.00 C438.10 137.66 441.47 139.07 442.80 140.50 C444.13 141.93 444.69 144.30 444.90 146.50 C445.11 148.70 444.81 153.10 444.20 155.20 C443.58 157.30 442.03 158.95 440.80 160.50 C439.57 162.05 437.61 164.41 436.00 165.50 C434.39 166.59 431.95 166.86 430.10 167.80 C428.25 168.75 425.12 170.39 423.70 171.80 C422.27 173.21 421.37 177.32 420.60 177.20 C419.84 177.08 419.20 172.75 418.60 171.00 C418.00 169.25 417.14 167.45 416.60 165.50 C416.06 163.55 415.24 160.18 415.00 158.00 C414.76 155.82 414.77 152.88 415.00 151.00 C415.23 149.12 415.86 146.93 416.50 145.50 C417.14 144.07 418.25 142.66 419.30 141.50 C420.35 140.34 422.07 138.61 423.50 137.80 C424.93 136.99 426.93 136.22 428.80 136.10Z"/></clipPath>
<g filter="url(#rough)"><g clip-path="url(#c5)">
<path d="M428.80 136.10 C430.68 135.98 433.90 136.34 436.00 137.00 C438.10 137.66 441.47 139.07 442.80 140.50 C444.13 141.93 444.69 144.30 444.90 146.50 C445.11 148.70 444.81 153.10 444.20 155.20 C443.58 157.30 442.03 158.95 440.80 160.50 C439.57 162.05 437.61 164.41 436.00 165.50 C434.39 166.59 431.95 166.86 430.10 167.80 C428.25 168.75 425.12 170.39 423.70 171.80 C422.27 173.21 421.37 177.32 420.60 177.20 C419.84 177.08 419.20 172.75 418.60 171.00 C418.00 169.25 417.14 167.45 416.60 165.50 C416.06 163.55 415.24 160.18 415.00 158.00 C414.76 155.82 414.77 152.88 415.00 151.00 C415.23 149.12 415.86 146.93 416.50 145.50 C417.14 144.07 418.25 142.66 419.30 141.50 C420.35 140.34 422.07 138.61 423.50 137.80 C424.93 136.99 426.93 136.22 428.80 136.10Z" fill="#2a78ff"/>
<path d="M428.80 136.10 C430.68 135.98 433.90 136.34 436.00 137.00 C438.10 137.66 441.47 139.07 442.80 140.50 C444.13 141.93 444.69 144.30 444.90 146.50 C445.11 148.70 444.81 153.10 444.20 155.20 C443.58 157.30 442.03 158.95 440.80 160.50 C439.57 162.05 437.61 164.41 436.00 165.50 C434.39 166.59 431.95 166.86 430.10 167.80 C428.25 168.75 425.12 170.39 423.70 171.80 C422.27 173.21 421.37 177.32 420.60 177.20 C419.84 177.08 419.20 172.75 418.60 171.00 C418.00 169.25 417.14 167.45 416.60 165.50 C416.06 163.55 415.24 160.18 415.00 158.00 C414.76 155.82 414.77 152.88 415.00 151.00 C415.23 149.12 415.86 146.93 416.50 145.50 C417.14 144.07 418.25 142.66 419.30 141.50 C420.35 140.34 422.07 138.61 423.50 137.80 C424.93 136.99 426.93 136.22 428.80 136.10Z" fill="none" stroke="#1840ff" stroke-width="4.80" stroke-linejoin="round"/>
</g></g>
<ellipse cx="430.00" cy="150.80" rx="11.90" ry="13.30" transform="rotate(25.0 430.00 150.80)" fill="#00ccff" filter="url(#rough2)"/>
<ellipse cx="429.8" cy="150.4" rx="10.6" ry="12.0" transform="rotate(25 429.8 150.4)" fill="url(#pztg)"/>
</g>
<rect x="251.15" y="42.65" width="194.65" height="145.75" fill="none" stroke="#505050" stroke-width="1.0"/>
<path d="M299.81 42.65 V188.40 M348.48 42.65 V188.40 M397.14 42.65 V188.40" stroke="#111" stroke-width="1.15" fill="none"/>
<path d="M251.15 66.75 h3.60 M445.80 66.75 h-3.60 M296.21 66.75 h7.20 M344.88 66.75 h7.20 M393.54 66.75 h7.20 M251.15 91.12 h2.20 M445.80 91.12 h-2.20 M297.61 91.12 h4.40 M346.28 91.12 h4.40 M394.94 91.12 h4.40 M251.15 115.50 h3.60 M445.80 115.50 h-3.60 M296.21 115.50 h7.20 M344.88 115.50 h7.20 M393.54 115.50 h7.20 M251.15 139.87 h2.20 M445.80 139.87 h-2.20 M297.61 139.87 h4.40 M346.28 139.87 h4.40 M394.94 139.87 h4.40 M251.15 164.25 h3.60 M445.80 164.25 h-3.60 M296.21 164.25 h7.20 M344.88 164.25 h7.20 M393.54 164.25 h7.20 M275.48 188.40 v-3.2 M324.14 188.40 v-3.2 M372.81 188.40 v-3.2 M421.47 188.40 v-3.2" stroke="#222" stroke-width="0.75" fill="none"/>
<text x="246.60" y="69.55" font-size="8.1" text-anchor="end" fill="#111" stroke="#111" stroke-width="0.15" >3.0</text>
<text x="246.60" y="118.30" font-size="8.1" text-anchor="end" fill="#111" stroke="#111" stroke-width="0.15" >2.9</text>
<text x="246.60" y="167.05" font-size="8.1" text-anchor="end" fill="#111" stroke="#111" stroke-width="0.15" >2.8</text>
<text x="250.70" y="199.20" font-size="8.2" text-anchor="middle" fill="#111" stroke="#111" stroke-width="0.2" >-1.05</text>
<text x="275.60" y="199.20" font-size="8.2" text-anchor="middle" fill="#111" stroke="#111" stroke-width="0.2" >-1.00</text>
<text x="300.00" y="199.20" font-size="8.2" text-anchor="middle" fill="#111" stroke="#111" stroke-width="0.2" >-0.95</text>
<text x="324.00" y="199.20" font-size="8.2" text-anchor="middle" fill="#111" stroke="#111" stroke-width="0.2" >-1</text>
<text x="372.60" y="199.20" font-size="8.2" text-anchor="middle" fill="#111" stroke="#111" stroke-width="0.2" >-1</text>
<text x="421.00" y="199.20" font-size="8.2" text-anchor="middle" fill="#111" stroke="#111" stroke-width="0.2" >-1</text>
<text x="266" y="211.5" font-size="10.6" fill="#111" stroke="#111" stroke-width="0.2"><tspan font-style="italic">h</tspan><tspan dx="0.6">00</tspan></text>
<text transform="translate(231.2 113.3) rotate(-90)" font-size="10.6" text-anchor="middle" fill="#111">00<tspan font-style="italic">l</tspan></text>
<text x="234.00" y="43.80" font-size="9.9" text-anchor="start" fill="#111" stroke="#111" stroke-width="0.28" >(b)</text>
<text x="290.20" y="62.00" font-size="8.3" text-anchor="start" fill="#111" stroke="#111" stroke-width="0.3" >LSAT</text>
<text x="301.00" y="88.80" font-size="8.3" text-anchor="start" fill="#111" stroke="#111" stroke-width="0.3" >LSMO</text>
<text x="292.60" y="104.70" font-size="8.3" text-anchor="start" fill="#111" stroke="#111" stroke-width="0.3" >SCO</text>
<text x="268.00" y="129.50" font-size="8.3" text-anchor="start" fill="#111" stroke="#111" stroke-width="0.3" >SRO</text>
<text x="389.20" y="60.50" font-size="8.3" text-anchor="start" fill="#111" stroke="#111" stroke-width="0.3" >STO</text>
<text x="390.20" y="76.70" font-size="8.3" text-anchor="start" fill="#111" stroke="#111" stroke-width="0.3" >SCO</text>
<text x="365.50" y="101.00" font-size="8.3" text-anchor="start" fill="#111" stroke="#111" stroke-width="0.3" >SRO</text>
<text x="422.20" y="132.30" font-size="8.3" text-anchor="start" fill="#111" stroke="#111" stroke-width="0.3" >PZT</text>
<path d="M290.60 63.20 L281.60 66.60" stroke="#000" stroke-width="1.0" fill="none" marker-end="url(#ah)"/>
<path d="M310.40 60.60 L318.60 64.00" stroke="#000" stroke-width="1.0" fill="none" marker-end="url(#ah)"/>
<path d="M315.00 81.20 L321.40 74.60" stroke="#000" stroke-width="1.0" fill="none" marker-end="url(#ah)"/>
<path d="M291.80 101.80 L284.20 101.80" stroke="#000" stroke-width="1.0" fill="none" marker-end="url(#ah)"/>
<path d="M311.20 101.80 L320.00 101.80" stroke="#000" stroke-width="1.0" fill="none" marker-end="url(#ah)"/>
<path d="M389.00 61.00 L379.60 64.60" stroke="#000" stroke-width="1.0" fill="none" marker-end="url(#ah)"/>
<path d="M406.80 60.60 L416.20 65.00" stroke="#000" stroke-width="1.0" fill="none" marker-end="url(#ah)"/>
<path d="M389.40 73.80 L381.80 73.80" stroke="#000" stroke-width="1.0" fill="none" marker-end="url(#ah)"/>
<path d="M408.40 73.80 L416.40 73.80" stroke="#000" stroke-width="1.0" fill="none" marker-end="url(#ah)"/>
</svg>
</body></html>
